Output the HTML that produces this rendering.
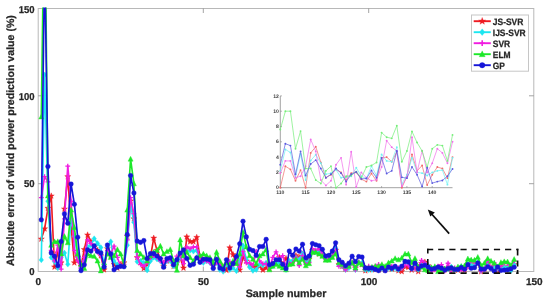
<!DOCTYPE html>
<html lang="en"><head><meta charset="utf-8"><title>Absolute error of wind power prediction value</title>
<style>html,body{margin:0;padding:0;background:#fff}body{width:550px;height:302px;position:relative;overflow:hidden}</style></head>
<body>
<svg width="550" height="302" viewBox="0 0 550 302" style="position:absolute;left:0;top:0">
<defs><clipPath id="cp"><rect x="35.0" y="7.5" width="502.0" height="271.5"/></clipPath><filter id="bl" x="-2%" y="-2%" width="104%" height="104%"><feGaussianBlur stdDeviation="0.45"/></filter><filter id="bt" x="-2%" y="-2%" width="104%" height="104%"><feGaussianBlur stdDeviation="0.3"/></filter></defs>
<rect x="0" y="0" width="550" height="302" fill="#fff"/>
<g filter="url(#bl)">
<rect x="38.2" y="8.5" width="495.6" height="263" fill="none" stroke="#b8b8b8" stroke-width="1"/>
<path d="M203.3 271.5v-5M203.3 8.0v5M368.7 271.5v-5M368.7 8.0v5M38.0 183.7h5M534.0 183.7h-5M38.0 95.8h5M534.0 95.8h-5" stroke="#a4a4a4" stroke-width="1" fill="none"/>
<g clip-path="url(#cp)">
<g stroke="#ee1c24" fill="#ee1c24">
<polyline points="41.31,239.00 44.61,228.81 47.92,208.26 51.23,195.96 54.53,266.93 57.84,252.88 61.15,262.72 64.45,208.96 67.76,176.64 71.07,225.83 74.37,262.72 77.68,257.45 80.99,266.23 84.29,249.54 87.60,234.96 90.91,241.64 94.21,246.91 97.52,250.42 100.83,255.69 104.13,269.74 107.44,248.66 110.75,255.69 114.05,264.47 117.36,267.99 120.67,264.47 123.97,262.72 127.28,236.37 130.59,200.88 133.89,218.80 137.20,257.45 140.51,262.72 143.81,268.34 147.12,264.47 150.43,257.45 153.73,238.12 157.04,250.42 160.35,259.20 163.65,266.23 166.96,260.96 170.27,259.20 173.57,266.23 176.88,262.72 180.19,257.45 183.49,267.99 186.80,236.89 190.11,241.64 193.41,241.64 196.72,237.42 200.03,257.45 203.33,260.96 206.64,259.20 209.95,260.96 213.25,266.23 216.56,260.96 219.87,264.47 223.17,267.99 226.48,270.27 229.79,247.78 233.09,254.64 236.40,262.72 239.71,269.92 243.01,257.45 246.32,260.96 249.63,264.47 252.93,266.23 256.24,266.23 259.55,266.23 262.85,269.92 266.16,267.99 269.47,267.99 272.77,264.47 276.08,262.72 279.39,257.45 282.69,264.47 286.00,258.50 289.31,262.72 292.61,260.96 295.92,255.69 299.23,257.45 302.53,253.93 305.84,260.96 309.15,259.20 312.45,250.42 315.76,252.18 319.07,253.93 322.37,255.69 325.68,259.20 328.99,259.20 332.29,255.69 335.60,250.42 338.91,264.47 342.21,266.23 345.52,268.87 348.83,266.23 352.13,262.72 355.44,267.99 358.75,262.72 362.05,264.47 365.36,270.62 368.67,268.87 371.97,269.74 375.28,267.99 378.59,269.74 381.89,267.99 385.20,269.74 388.51,267.99 391.81,268.87 395.12,267.99 398.43,270.62 401.73,271.50 405.04,266.58 408.35,267.28 411.65,269.92 414.96,267.46 418.27,271.50 421.57,263.51 424.88,262.10 428.19,265.70 431.49,269.22 434.80,268.51 438.11,267.28 441.41,267.99 444.72,269.74 448.03,268.16 451.33,267.99 454.64,269.57 457.95,270.09 461.25,268.25 464.56,269.92 467.87,264.65 471.17,264.47 474.48,265.53 477.79,263.24 481.09,271.50 484.40,268.87 487.71,263.86 491.01,267.64 494.32,266.41 497.63,270.89 500.93,268.51 504.24,266.76 507.55,267.11 510.85,269.30 514.16,264.47" fill="none" stroke-width="1.65" stroke-linejoin="round"/>
<g stroke-width="0.4">
<polygon points="41.31,235.85 42.08,237.93 44.30,238.03 42.56,239.41 43.16,241.55 41.31,240.32 39.46,241.55 40.05,239.41 38.31,238.03 40.53,237.93"/>
<polygon points="44.61,225.66 45.39,227.74 47.61,227.84 45.87,229.22 46.46,231.36 44.61,230.14 42.76,231.36 43.36,229.22 41.62,227.84 43.84,227.74"/>
<polygon points="47.92,205.11 48.70,207.19 50.92,207.29 49.18,208.67 49.77,210.81 47.92,209.58 46.07,210.81 46.66,208.67 44.92,207.29 47.14,207.19"/>
<polygon points="51.23,192.81 52.00,194.89 54.22,194.99 52.48,196.37 53.08,198.51 51.23,197.29 49.38,198.51 49.97,196.37 48.23,194.99 50.45,194.89"/>
<polygon points="54.53,263.78 55.31,265.86 57.53,265.96 55.79,267.34 56.38,269.48 54.53,268.26 52.68,269.48 53.28,267.34 51.54,265.96 53.76,265.86"/>
<polygon points="57.84,249.73 58.62,251.81 60.84,251.91 59.10,253.29 59.69,255.43 57.84,254.20 55.99,255.43 56.58,253.29 54.84,251.91 57.06,251.81"/>
<polygon points="61.15,259.57 61.92,261.65 64.14,261.74 62.40,263.13 63.00,265.27 61.15,264.04 59.30,265.27 59.89,263.13 58.15,261.74 60.37,261.65"/>
<polygon points="64.45,205.81 65.23,207.89 67.45,207.99 65.71,209.37 66.30,211.51 64.45,210.29 62.60,211.51 63.20,209.37 61.46,207.99 63.68,207.89"/>
<polygon points="67.76,173.49 68.54,175.57 70.76,175.67 69.02,177.05 69.61,179.19 67.76,177.96 65.91,179.19 66.50,177.05 64.76,175.67 66.98,175.57"/>
<polygon points="71.07,222.68 71.84,224.76 74.06,224.85 72.32,226.24 72.92,228.38 71.07,227.15 69.22,228.38 69.81,226.24 68.07,224.85 70.29,224.76"/>
<polygon points="74.37,259.57 75.15,261.65 77.37,261.74 75.63,263.13 76.22,265.27 74.37,264.04 72.52,265.27 73.12,263.13 71.38,261.74 73.60,261.65"/>
<polygon points="77.68,254.30 78.46,256.38 80.68,256.47 78.94,257.86 79.53,260.00 77.68,258.77 75.83,260.00 76.42,257.86 74.68,256.47 76.90,256.38"/>
<polygon points="80.99,263.08 81.76,265.16 83.98,265.26 82.24,266.64 82.84,268.78 80.99,267.55 79.14,268.78 79.73,266.64 77.99,265.26 80.21,265.16"/>
<polygon points="84.29,246.39 85.07,248.47 87.29,248.57 85.55,249.95 86.14,252.09 84.29,250.86 82.44,252.09 83.04,249.95 81.30,248.57 83.52,248.47"/>
<polygon points="87.60,231.81 88.38,233.89 90.60,233.99 88.86,235.37 89.45,237.51 87.60,236.28 85.75,237.51 86.34,235.37 84.60,233.99 86.82,233.89"/>
<polygon points="90.91,238.49 91.68,240.57 93.90,240.66 92.16,242.05 92.76,244.19 90.91,242.96 89.06,244.19 89.65,242.05 87.91,240.66 90.13,240.57"/>
<polygon points="94.21,243.76 94.99,245.84 97.21,245.93 95.47,247.32 96.06,249.46 94.21,248.23 92.36,249.46 92.96,247.32 91.22,245.93 93.44,245.84"/>
<polygon points="97.52,247.27 98.30,249.35 100.52,249.45 98.78,250.83 99.37,252.97 97.52,251.74 95.67,252.97 96.26,250.83 94.52,249.45 96.74,249.35"/>
<polygon points="100.83,252.54 101.60,254.62 103.82,254.72 102.08,256.10 102.68,258.24 100.83,257.01 98.98,258.24 99.57,256.10 97.83,254.72 100.05,254.62"/>
<polygon points="104.13,266.59 104.91,268.67 107.13,268.77 105.39,270.15 105.98,272.29 104.13,271.07 102.28,272.29 102.88,270.15 101.14,268.77 103.36,268.67"/>
<polygon points="107.44,245.51 108.22,247.59 110.44,247.69 108.70,249.07 109.29,251.21 107.44,249.99 105.59,251.21 106.18,249.07 104.44,247.69 106.66,247.59"/>
<polygon points="110.75,252.54 111.52,254.62 113.74,254.72 112.00,256.10 112.60,258.24 110.75,257.01 108.90,258.24 109.49,256.10 107.75,254.72 109.97,254.62"/>
<polygon points="114.05,261.32 114.83,263.40 117.05,263.50 115.31,264.88 115.90,267.02 114.05,265.80 112.20,267.02 112.80,264.88 111.06,263.50 113.28,263.40"/>
<polygon points="117.36,264.84 118.14,266.92 120.36,267.01 118.62,268.40 119.21,270.54 117.36,269.31 115.51,270.54 116.10,268.40 114.36,267.01 116.58,266.92"/>
<polygon points="120.67,261.32 121.44,263.40 123.66,263.50 121.92,264.88 122.52,267.02 120.67,265.80 118.82,267.02 119.41,264.88 117.67,263.50 119.89,263.40"/>
<polygon points="123.97,259.57 124.75,261.65 126.97,261.74 125.23,263.13 125.82,265.27 123.97,264.04 122.12,265.27 122.72,263.13 120.98,261.74 123.20,261.65"/>
<polygon points="127.28,233.22 128.06,235.30 130.28,235.39 128.54,236.78 129.13,238.92 127.28,237.69 125.43,238.92 126.02,236.78 124.28,235.39 126.50,235.30"/>
<polygon points="130.59,197.73 131.36,199.81 133.58,199.91 131.84,201.29 132.44,203.43 130.59,202.21 128.74,203.43 129.33,201.29 127.59,199.91 129.81,199.81"/>
<polygon points="133.89,215.65 134.67,217.73 136.89,217.83 135.15,219.21 135.74,221.35 133.89,220.12 132.04,221.35 132.64,219.21 130.90,217.83 133.12,217.73"/>
<polygon points="137.20,254.30 137.98,256.38 140.20,256.47 138.46,257.86 139.05,260.00 137.20,258.77 135.35,260.00 135.94,257.86 134.20,256.47 136.42,256.38"/>
<polygon points="140.51,259.57 141.28,261.65 143.50,261.74 141.76,263.13 142.36,265.27 140.51,264.04 138.66,265.27 139.25,263.13 137.51,261.74 139.73,261.65"/>
<polygon points="143.81,265.19 144.59,267.27 146.81,267.36 145.07,268.75 145.66,270.89 143.81,269.66 141.96,270.89 142.56,268.75 140.82,267.36 143.04,267.27"/>
<polygon points="147.12,261.32 147.90,263.40 150.12,263.50 148.38,264.88 148.97,267.02 147.12,265.80 145.27,267.02 145.86,264.88 144.12,263.50 146.34,263.40"/>
<polygon points="150.43,254.30 151.20,256.38 153.42,256.47 151.68,257.86 152.28,260.00 150.43,258.77 148.58,260.00 149.17,257.86 147.43,256.47 149.65,256.38"/>
<polygon points="153.73,234.97 154.51,237.05 156.73,237.15 154.99,238.53 155.58,240.67 153.73,239.45 151.88,240.67 152.48,238.53 150.74,237.15 152.96,237.05"/>
<polygon points="157.04,247.27 157.82,249.35 160.04,249.45 158.30,250.83 158.89,252.97 157.04,251.74 155.19,252.97 155.78,250.83 154.04,249.45 156.26,249.35"/>
<polygon points="160.35,256.05 161.12,258.13 163.34,258.23 161.60,259.61 162.20,261.75 160.35,260.53 158.50,261.75 159.09,259.61 157.35,258.23 159.57,258.13"/>
<polygon points="163.65,263.08 164.43,265.16 166.65,265.26 164.91,266.64 165.50,268.78 163.65,267.55 161.80,268.78 162.40,266.64 160.66,265.26 162.88,265.16"/>
<polygon points="166.96,257.81 167.74,259.89 169.96,259.99 168.22,261.37 168.81,263.51 166.96,262.28 165.11,263.51 165.70,261.37 163.96,259.99 166.18,259.89"/>
<polygon points="170.27,256.05 171.04,258.13 173.26,258.23 171.52,259.61 172.12,261.75 170.27,260.53 168.42,261.75 169.01,259.61 167.27,258.23 169.49,258.13"/>
<polygon points="173.57,263.08 174.35,265.16 176.57,265.26 174.83,266.64 175.42,268.78 173.57,267.55 171.72,268.78 172.32,266.64 170.58,265.26 172.80,265.16"/>
<polygon points="176.88,259.57 177.66,261.65 179.88,261.74 178.14,263.13 178.73,265.27 176.88,264.04 175.03,265.27 175.62,263.13 173.88,261.74 176.10,261.65"/>
<polygon points="180.19,254.30 180.96,256.38 183.18,256.47 181.44,257.86 182.04,260.00 180.19,258.77 178.34,260.00 178.93,257.86 177.19,256.47 179.41,256.38"/>
<polygon points="183.49,264.84 184.27,266.92 186.49,267.01 184.75,268.40 185.34,270.54 183.49,269.31 181.64,270.54 182.24,268.40 180.50,267.01 182.72,266.92"/>
<polygon points="186.80,233.74 187.58,235.82 189.80,235.92 188.06,237.30 188.65,239.44 186.80,238.22 184.95,239.44 185.54,237.30 183.80,235.92 186.02,235.82"/>
<polygon points="190.11,238.49 190.88,240.57 193.10,240.66 191.36,242.05 191.96,244.19 190.11,242.96 188.26,244.19 188.85,242.05 187.11,240.66 189.33,240.57"/>
<polygon points="193.41,238.49 194.19,240.57 196.41,240.66 194.67,242.05 195.26,244.19 193.41,242.96 191.56,244.19 192.16,242.05 190.42,240.66 192.64,240.57"/>
<polygon points="196.72,234.27 197.50,236.35 199.72,236.45 197.98,237.83 198.57,239.97 196.72,238.74 194.87,239.97 195.46,237.83 193.72,236.45 195.94,236.35"/>
<polygon points="200.03,254.30 200.80,256.38 203.02,256.47 201.28,257.86 201.88,260.00 200.03,258.77 198.18,260.00 198.77,257.86 197.03,256.47 199.25,256.38"/>
<polygon points="203.33,257.81 204.11,259.89 206.33,259.99 204.59,261.37 205.18,263.51 203.33,262.28 201.48,263.51 202.08,261.37 200.34,259.99 202.56,259.89"/>
<polygon points="206.64,256.05 207.42,258.13 209.64,258.23 207.90,259.61 208.49,261.75 206.64,260.53 204.79,261.75 205.38,259.61 203.64,258.23 205.86,258.13"/>
<polygon points="209.95,257.81 210.72,259.89 212.94,259.99 211.20,261.37 211.80,263.51 209.95,262.28 208.10,263.51 208.69,261.37 206.95,259.99 209.17,259.89"/>
<polygon points="213.25,263.08 214.03,265.16 216.25,265.26 214.51,266.64 215.10,268.78 213.25,267.55 211.40,268.78 212.00,266.64 210.26,265.26 212.48,265.16"/>
<polygon points="216.56,257.81 217.34,259.89 219.56,259.99 217.82,261.37 218.41,263.51 216.56,262.28 214.71,263.51 215.30,261.37 213.56,259.99 215.78,259.89"/>
<polygon points="219.87,261.32 220.64,263.40 222.86,263.50 221.12,264.88 221.72,267.02 219.87,265.80 218.02,267.02 218.61,264.88 216.87,263.50 219.09,263.40"/>
<polygon points="223.17,264.84 223.95,266.92 226.17,267.01 224.43,268.40 225.02,270.54 223.17,269.31 221.32,270.54 221.92,268.40 220.18,267.01 222.40,266.92"/>
<polygon points="226.48,267.12 227.26,269.20 229.48,269.30 227.74,270.68 228.33,272.82 226.48,271.59 224.63,272.82 225.22,270.68 223.48,269.30 225.70,269.20"/>
<polygon points="229.79,244.63 230.56,246.71 232.78,246.81 231.04,248.19 231.64,250.33 229.79,249.11 227.94,250.33 228.53,248.19 226.79,246.81 229.01,246.71"/>
<polygon points="233.09,251.49 233.87,253.57 236.09,253.66 234.35,255.04 234.94,257.18 233.09,255.96 231.24,257.18 231.84,255.04 230.10,253.66 232.32,253.57"/>
<polygon points="236.40,259.57 237.18,261.65 239.40,261.74 237.66,263.13 238.25,265.27 236.40,264.04 234.55,265.27 235.14,263.13 233.40,261.74 235.62,261.65"/>
<polygon points="239.71,266.77 240.48,268.85 242.70,268.95 240.96,270.33 241.56,272.47 239.71,271.24 237.86,272.47 238.45,270.33 236.71,268.95 238.93,268.85"/>
<polygon points="243.01,254.30 243.79,256.38 246.01,256.47 244.27,257.86 244.86,260.00 243.01,258.77 241.16,260.00 241.76,257.86 240.02,256.47 242.24,256.38"/>
<polygon points="246.32,257.81 247.10,259.89 249.32,259.99 247.58,261.37 248.17,263.51 246.32,262.28 244.47,263.51 245.06,261.37 243.32,259.99 245.54,259.89"/>
<polygon points="249.63,261.32 250.40,263.40 252.62,263.50 250.88,264.88 251.48,267.02 249.63,265.80 247.78,267.02 248.37,264.88 246.63,263.50 248.85,263.40"/>
<polygon points="252.93,263.08 253.71,265.16 255.93,265.26 254.19,266.64 254.78,268.78 252.93,267.55 251.08,268.78 251.68,266.64 249.94,265.26 252.16,265.16"/>
<polygon points="256.24,263.08 257.02,265.16 259.24,265.26 257.50,266.64 258.09,268.78 256.24,267.55 254.39,268.78 254.98,266.64 253.24,265.26 255.46,265.16"/>
<polygon points="259.55,263.08 260.32,265.16 262.54,265.26 260.80,266.64 261.40,268.78 259.55,267.55 257.70,268.78 258.29,266.64 256.55,265.26 258.77,265.16"/>
<polygon points="262.85,266.77 263.63,268.85 265.85,268.95 264.11,270.33 264.70,272.47 262.85,271.24 261.00,272.47 261.60,270.33 259.86,268.95 262.08,268.85"/>
<polygon points="266.16,264.84 266.94,266.92 269.16,267.01 267.42,268.40 268.01,270.54 266.16,269.31 264.31,270.54 264.90,268.40 263.16,267.01 265.38,266.92"/>
<polygon points="269.47,264.84 270.24,266.92 272.46,267.01 270.72,268.40 271.32,270.54 269.47,269.31 267.62,270.54 268.21,268.40 266.47,267.01 268.69,266.92"/>
<polygon points="272.77,261.32 273.55,263.40 275.77,263.50 274.03,264.88 274.62,267.02 272.77,265.80 270.92,267.02 271.52,264.88 269.78,263.50 272.00,263.40"/>
<polygon points="276.08,259.57 276.86,261.65 279.08,261.74 277.34,263.13 277.93,265.27 276.08,264.04 274.23,265.27 274.82,263.13 273.08,261.74 275.30,261.65"/>
<polygon points="279.39,254.30 280.16,256.38 282.38,256.47 280.64,257.86 281.24,260.00 279.39,258.77 277.54,260.00 278.13,257.86 276.39,256.47 278.61,256.38"/>
<polygon points="282.69,261.32 283.47,263.40 285.69,263.50 283.95,264.88 284.54,267.02 282.69,265.80 280.84,267.02 281.44,264.88 279.70,263.50 281.92,263.40"/>
<polygon points="286.00,255.35 286.78,257.43 289.00,257.53 287.26,258.91 287.85,261.05 286.00,259.82 284.15,261.05 284.74,258.91 283.00,257.53 285.22,257.43"/>
<polygon points="289.31,259.57 290.08,261.65 292.30,261.74 290.56,263.13 291.16,265.27 289.31,264.04 287.46,265.27 288.05,263.13 286.31,261.74 288.53,261.65"/>
<polygon points="292.61,257.81 293.39,259.89 295.61,259.99 293.87,261.37 294.46,263.51 292.61,262.28 290.76,263.51 291.36,261.37 289.62,259.99 291.84,259.89"/>
<polygon points="295.92,252.54 296.70,254.62 298.92,254.72 297.18,256.10 297.77,258.24 295.92,257.01 294.07,258.24 294.66,256.10 292.92,254.72 295.14,254.62"/>
<polygon points="299.23,254.30 300.00,256.38 302.22,256.47 300.48,257.86 301.08,260.00 299.23,258.77 297.38,260.00 297.97,257.86 296.23,256.47 298.45,256.38"/>
<polygon points="302.53,250.78 303.31,252.86 305.53,252.96 303.79,254.34 304.38,256.48 302.53,255.26 300.68,256.48 301.28,254.34 299.54,252.96 301.76,252.86"/>
<polygon points="305.84,257.81 306.62,259.89 308.84,259.99 307.10,261.37 307.69,263.51 305.84,262.28 303.99,263.51 304.58,261.37 302.84,259.99 305.06,259.89"/>
<polygon points="309.15,256.05 309.92,258.13 312.14,258.23 310.40,259.61 311.00,261.75 309.15,260.53 307.30,261.75 307.89,259.61 306.15,258.23 308.37,258.13"/>
<polygon points="312.45,247.27 313.23,249.35 315.45,249.45 313.71,250.83 314.30,252.97 312.45,251.74 310.60,252.97 311.20,250.83 309.46,249.45 311.68,249.35"/>
<polygon points="315.76,249.03 316.54,251.11 318.76,251.20 317.02,252.59 317.61,254.73 315.76,253.50 313.91,254.73 314.50,252.59 312.76,251.20 314.98,251.11"/>
<polygon points="319.07,250.78 319.84,252.86 322.06,252.96 320.32,254.34 320.92,256.48 319.07,255.26 317.22,256.48 317.81,254.34 316.07,252.96 318.29,252.86"/>
<polygon points="322.37,252.54 323.15,254.62 325.37,254.72 323.63,256.10 324.22,258.24 322.37,257.01 320.52,258.24 321.12,256.10 319.38,254.72 321.60,254.62"/>
<polygon points="325.68,256.05 326.46,258.13 328.68,258.23 326.94,259.61 327.53,261.75 325.68,260.53 323.83,261.75 324.42,259.61 322.68,258.23 324.90,258.13"/>
<polygon points="328.99,256.05 329.76,258.13 331.98,258.23 330.24,259.61 330.84,261.75 328.99,260.53 327.14,261.75 327.73,259.61 325.99,258.23 328.21,258.13"/>
<polygon points="332.29,252.54 333.07,254.62 335.29,254.72 333.55,256.10 334.14,258.24 332.29,257.01 330.44,258.24 331.04,256.10 329.30,254.72 331.52,254.62"/>
<polygon points="335.60,247.27 336.38,249.35 338.60,249.45 336.86,250.83 337.45,252.97 335.60,251.74 333.75,252.97 334.34,250.83 332.60,249.45 334.82,249.35"/>
<polygon points="338.91,261.32 339.68,263.40 341.90,263.50 340.16,264.88 340.76,267.02 338.91,265.80 337.06,267.02 337.65,264.88 335.91,263.50 338.13,263.40"/>
<polygon points="342.21,263.08 342.99,265.16 345.21,265.26 343.47,266.64 344.06,268.78 342.21,267.55 340.36,268.78 340.96,266.64 339.22,265.26 341.44,265.16"/>
<polygon points="345.52,265.72 346.30,267.79 348.52,267.89 346.78,269.27 347.37,271.41 345.52,270.19 343.67,271.41 344.26,269.27 342.52,267.89 344.74,267.79"/>
<polygon points="348.83,263.08 349.60,265.16 351.82,265.26 350.08,266.64 350.68,268.78 348.83,267.55 346.98,268.78 347.57,266.64 345.83,265.26 348.05,265.16"/>
<polygon points="352.13,259.57 352.91,261.65 355.13,261.74 353.39,263.13 353.98,265.27 352.13,264.04 350.28,265.27 350.88,263.13 349.14,261.74 351.36,261.65"/>
<polygon points="355.44,264.84 356.22,266.92 358.44,267.01 356.70,268.40 357.29,270.54 355.44,269.31 353.59,270.54 354.18,268.40 352.44,267.01 354.66,266.92"/>
<polygon points="358.75,259.57 359.52,261.65 361.74,261.74 360.00,263.13 360.60,265.27 358.75,264.04 356.90,265.27 357.49,263.13 355.75,261.74 357.97,261.65"/>
<polygon points="362.05,261.32 362.83,263.40 365.05,263.50 363.31,264.88 363.90,267.02 362.05,265.80 360.20,267.02 360.80,264.88 359.06,263.50 361.28,263.40"/>
<polygon points="365.36,267.47 366.14,269.55 368.36,269.65 366.62,271.03 367.21,273.17 365.36,271.94 363.51,273.17 364.10,271.03 362.36,269.65 364.58,269.55"/>
<polygon points="368.67,265.72 369.44,267.79 371.66,267.89 369.92,269.27 370.52,271.41 368.67,270.19 366.82,271.41 367.41,269.27 365.67,267.89 367.89,267.79"/>
<polygon points="371.97,266.59 372.75,268.67 374.97,268.77 373.23,270.15 373.82,272.29 371.97,271.07 370.12,272.29 370.72,270.15 368.98,268.77 371.20,268.67"/>
<polygon points="375.28,264.84 376.06,266.92 378.28,267.01 376.54,268.40 377.13,270.54 375.28,269.31 373.43,270.54 374.02,268.40 372.28,267.01 374.50,266.92"/>
<polygon points="378.59,266.59 379.36,268.67 381.58,268.77 379.84,270.15 380.44,272.29 378.59,271.07 376.74,272.29 377.33,270.15 375.59,268.77 377.81,268.67"/>
<polygon points="381.89,264.84 382.67,266.92 384.89,267.01 383.15,268.40 383.74,270.54 381.89,269.31 380.04,270.54 380.64,268.40 378.90,267.01 381.12,266.92"/>
<polygon points="385.20,266.59 385.98,268.67 388.20,268.77 386.46,270.15 387.05,272.29 385.20,271.07 383.35,272.29 383.94,270.15 382.20,268.77 384.42,268.67"/>
<polygon points="388.51,264.84 389.28,266.92 391.50,267.01 389.76,268.40 390.36,270.54 388.51,269.31 386.66,270.54 387.25,268.40 385.51,267.01 387.73,266.92"/>
<polygon points="391.81,265.72 392.59,267.79 394.81,267.89 393.07,269.27 393.66,271.41 391.81,270.19 389.96,271.41 390.56,269.27 388.82,267.89 391.04,267.79"/>
<polygon points="395.12,264.84 395.90,266.92 398.12,267.01 396.38,268.40 396.97,270.54 395.12,269.31 393.27,270.54 393.86,268.40 392.12,267.01 394.34,266.92"/>
<polygon points="398.43,267.47 399.20,269.55 401.42,269.65 399.68,271.03 400.28,273.17 398.43,271.94 396.58,273.17 397.17,271.03 395.43,269.65 397.65,269.55"/>
<polygon points="401.73,268.35 402.51,270.43 404.73,270.53 402.99,271.91 403.58,274.05 401.73,272.82 399.88,274.05 400.48,271.91 398.74,270.53 400.96,270.43"/>
<polygon points="405.04,263.43 405.82,265.51 408.04,265.61 406.30,266.99 406.89,269.13 405.04,267.90 403.19,269.13 403.78,266.99 402.04,265.61 404.26,265.51"/>
<polygon points="408.35,264.13 409.12,266.21 411.34,266.31 409.60,267.69 410.20,269.83 408.35,268.61 406.50,269.83 407.09,267.69 405.35,266.31 407.57,266.21"/>
<polygon points="411.65,266.77 412.43,268.85 414.65,268.95 412.91,270.33 413.50,272.47 411.65,271.24 409.80,272.47 410.40,270.33 408.66,268.95 410.88,268.85"/>
<polygon points="414.96,264.31 415.74,266.39 417.96,266.49 416.22,267.87 416.81,270.01 414.96,268.78 413.11,270.01 413.70,267.87 411.96,266.49 414.18,266.39"/>
<polygon points="418.27,268.35 419.04,270.43 421.26,270.53 419.52,271.91 420.12,274.05 418.27,272.82 416.42,274.05 417.01,271.91 415.27,270.53 417.49,270.43"/>
<polygon points="421.57,260.36 422.35,262.44 424.57,262.53 422.83,263.92 423.42,266.06 421.57,264.83 419.72,266.06 420.32,263.92 418.58,262.53 420.80,262.44"/>
<polygon points="424.88,258.95 425.66,261.03 427.88,261.13 426.14,262.51 426.73,264.65 424.88,263.42 423.03,264.65 423.62,262.51 421.88,261.13 424.10,261.03"/>
<polygon points="428.19,262.55 428.96,264.63 431.18,264.73 429.44,266.11 430.04,268.25 428.19,267.03 426.34,268.25 426.93,266.11 425.19,264.73 427.41,264.63"/>
<polygon points="431.49,266.07 432.27,268.15 434.49,268.24 432.75,269.63 433.34,271.76 431.49,270.54 429.64,271.76 430.24,269.63 428.50,268.24 430.72,268.15"/>
<polygon points="434.80,265.36 435.58,267.44 437.80,267.54 436.06,268.92 436.65,271.06 434.80,269.84 432.95,271.06 433.54,268.92 431.80,267.54 434.02,267.44"/>
<polygon points="438.11,264.13 438.88,266.21 441.10,266.31 439.36,267.69 439.96,269.83 438.11,268.61 436.26,269.83 436.85,267.69 435.11,266.31 437.33,266.21"/>
<polygon points="441.41,264.84 442.19,266.92 444.41,267.01 442.67,268.40 443.26,270.54 441.41,269.31 439.56,270.54 440.16,268.40 438.42,267.01 440.64,266.92"/>
<polygon points="444.72,266.59 445.50,268.67 447.72,268.77 445.98,270.15 446.57,272.29 444.72,271.07 442.87,272.29 443.46,270.15 441.72,268.77 443.94,268.67"/>
<polygon points="448.03,265.01 448.80,267.09 451.02,267.19 449.28,268.57 449.88,270.71 448.03,269.49 446.18,270.71 446.77,268.57 445.03,267.19 447.25,267.09"/>
<polygon points="451.33,264.84 452.11,266.92 454.33,267.01 452.59,268.40 453.18,270.54 451.33,269.31 449.48,270.54 450.08,268.40 448.34,267.01 450.56,266.92"/>
<polygon points="454.64,266.42 455.42,268.50 457.64,268.59 455.90,269.98 456.49,272.12 454.64,270.89 452.79,272.12 453.38,269.98 451.64,268.59 453.86,268.50"/>
<polygon points="457.95,266.94 458.72,269.02 460.94,269.12 459.20,270.50 459.80,272.64 457.95,271.42 456.10,272.64 456.69,270.50 454.95,269.12 457.17,269.02"/>
<polygon points="461.25,265.10 462.03,267.18 464.25,267.28 462.51,268.66 463.10,270.80 461.25,269.57 459.40,270.80 460.00,268.66 458.26,267.28 460.48,267.18"/>
<polygon points="464.56,266.77 465.34,268.85 467.56,268.95 465.82,270.33 466.41,272.47 464.56,271.24 462.71,272.47 463.30,270.33 461.56,268.95 463.78,268.85"/>
<polygon points="467.87,261.50 468.64,263.58 470.86,263.68 469.12,265.06 469.72,267.20 467.87,265.97 466.02,267.20 466.61,265.06 464.87,263.68 467.09,263.58"/>
<polygon points="471.17,261.32 471.95,263.40 474.17,263.50 472.43,264.88 473.02,267.02 471.17,265.80 469.32,267.02 469.92,264.88 468.18,263.50 470.40,263.40"/>
<polygon points="474.48,262.38 475.26,264.46 477.48,264.55 475.74,265.94 476.33,268.08 474.48,266.85 472.63,268.08 473.22,265.94 471.48,264.55 473.70,264.46"/>
<polygon points="477.79,260.09 478.56,262.17 480.78,262.27 479.04,263.65 479.64,265.79 477.79,264.57 475.94,265.79 476.53,263.65 474.79,262.27 477.01,262.17"/>
<polygon points="481.09,268.35 481.87,270.43 484.09,270.53 482.35,271.91 482.94,274.05 481.09,272.82 479.24,274.05 479.84,271.91 478.10,270.53 480.32,270.43"/>
<polygon points="484.40,265.72 485.18,267.79 487.40,267.89 485.66,269.27 486.25,271.41 484.40,270.19 482.55,271.41 483.14,269.27 481.40,267.89 483.62,267.79"/>
<polygon points="487.71,260.71 488.48,262.79 490.70,262.89 488.96,264.27 489.56,266.41 487.71,265.18 485.86,266.41 486.45,264.27 484.71,262.89 486.93,262.79"/>
<polygon points="491.01,264.49 491.79,266.57 494.01,266.66 492.27,268.04 492.86,270.18 491.01,268.96 489.16,270.18 489.76,268.04 488.02,266.66 490.24,266.57"/>
<polygon points="494.32,263.26 495.10,265.34 497.32,265.43 495.58,266.81 496.17,268.95 494.32,267.73 492.47,268.95 493.06,266.81 491.32,265.43 493.54,265.34"/>
<polygon points="497.63,267.74 498.40,269.81 500.62,269.91 498.88,271.29 499.48,273.43 497.63,272.21 495.78,273.43 496.37,271.29 494.63,269.91 496.85,269.81"/>
<polygon points="500.93,265.36 501.71,267.44 503.93,267.54 502.19,268.92 502.78,271.06 500.93,269.84 499.08,271.06 499.68,268.92 497.94,267.54 500.16,267.44"/>
<polygon points="504.24,263.61 505.02,265.69 507.24,265.78 505.50,267.17 506.09,269.31 504.24,268.08 502.39,269.31 502.98,267.17 501.24,265.78 503.46,265.69"/>
<polygon points="507.55,263.96 508.32,266.04 510.54,266.13 508.80,267.52 509.40,269.66 507.55,268.43 505.70,269.66 506.29,267.52 504.55,266.13 506.77,266.04"/>
<polygon points="510.85,266.15 511.63,268.23 513.85,268.33 512.11,269.71 512.70,271.85 510.85,270.63 509.00,271.85 509.60,269.71 507.86,268.33 510.08,268.23"/>
<polygon points="514.16,261.32 514.94,263.40 517.16,263.50 515.42,264.88 516.01,267.02 514.16,265.80 512.31,267.02 512.90,264.88 511.16,263.50 513.38,263.40"/>
</g></g>
<g stroke="#1fe6f0" fill="#1fe6f0">
<polyline points="41.31,259.91 44.61,74.75 47.92,201.23 51.23,257.45 54.53,261.66 57.84,267.99 61.15,257.45 64.45,252.88 67.76,264.30 71.07,218.80 74.37,236.37 77.68,257.45 80.99,267.99 84.29,260.96 87.60,246.91 90.91,245.15 94.21,238.65 97.52,243.39 100.83,247.43 104.13,264.47 107.44,246.91 110.75,241.64 114.05,260.96 117.36,264.47 120.67,266.23 123.97,266.23 127.28,245.15 130.59,204.75 133.89,222.31 137.20,261.66 140.51,260.96 143.81,262.72 147.12,270.27 150.43,260.96 153.73,257.45 157.04,259.20 160.35,260.96 163.65,266.23 166.96,260.96 170.27,260.96 173.57,266.23 176.88,262.72 180.19,257.45 183.49,255.69 186.80,251.30 190.11,250.42 193.41,251.30 196.72,250.42 200.03,260.96 203.33,262.72 206.64,260.96 209.95,262.72 213.25,267.99 216.56,262.72 219.87,269.74 223.17,271.50 226.48,264.47 229.79,269.74 233.09,267.99 236.40,270.97 239.71,260.96 243.01,245.68 246.32,259.20 249.63,267.28 252.93,270.62 256.24,269.74 259.55,264.47 262.85,265.35 266.16,262.72 269.47,267.99 272.77,266.23 276.08,262.72 279.39,262.72 282.69,266.23 286.00,269.74 289.31,260.96 292.61,260.96 295.92,257.45 299.23,259.20 302.53,253.93 305.84,262.72 309.15,260.96 312.45,250.42 315.76,252.18 319.07,250.42 322.37,253.93 325.68,259.20 328.99,259.20 332.29,255.69 335.60,248.66 338.91,264.47 342.21,266.23 345.52,269.74 348.83,267.99 352.13,262.72 355.44,269.74 358.75,262.72 362.05,262.72 365.36,269.74 368.67,269.74 371.97,269.74 375.28,268.87 378.59,269.74 381.89,267.99 385.20,269.74 388.51,267.99 391.81,268.87 395.12,267.99 398.43,269.74 401.73,267.64 405.04,262.72 408.35,263.42 411.65,269.04 414.96,263.77 418.27,269.74 421.57,265.26 424.88,263.95 428.19,265.88 431.49,268.43 434.80,268.16 438.11,267.37 441.41,269.22 444.72,269.04 448.03,268.87 451.33,266.93 454.64,268.87 457.95,269.39 461.25,266.58 464.56,268.69 467.87,263.86 471.17,265.35 474.48,265.53 477.79,262.19 481.09,270.62 484.40,268.51 487.71,264.65 491.01,267.99 494.32,268.16 497.63,268.69 500.93,267.99 504.24,267.64 507.55,267.46 510.85,270.80 514.16,264.65" fill="none" stroke-width="1.65" stroke-linejoin="round"/>
<g stroke-width="0.4">
<polygon points="41.31,257.09 43.56,259.91 41.31,262.72 39.06,259.91"/>
<polygon points="44.61,71.94 46.86,74.75 44.61,77.57 42.36,74.75"/>
<polygon points="47.92,198.42 50.17,201.23 47.92,204.05 45.67,201.23"/>
<polygon points="51.23,254.63 53.48,257.45 51.23,260.26 48.98,257.45"/>
<polygon points="54.53,258.85 56.78,261.66 54.53,264.48 52.28,261.66"/>
<polygon points="57.84,265.17 60.09,267.99 57.84,270.80 55.59,267.99"/>
<polygon points="61.15,254.63 63.40,257.45 61.15,260.26 58.90,257.45"/>
<polygon points="64.45,250.07 66.70,252.88 64.45,255.69 62.20,252.88"/>
<polygon points="67.76,261.49 70.01,264.30 67.76,267.11 65.51,264.30"/>
<polygon points="71.07,215.99 73.32,218.80 71.07,221.61 68.82,218.80"/>
<polygon points="74.37,233.55 76.62,236.37 74.37,239.18 72.12,236.37"/>
<polygon points="77.68,254.63 79.93,257.45 77.68,260.26 75.43,257.45"/>
<polygon points="80.99,265.17 83.24,267.99 80.99,270.80 78.74,267.99"/>
<polygon points="84.29,258.15 86.54,260.96 84.29,263.77 82.04,260.96"/>
<polygon points="87.60,244.09 89.85,246.91 87.60,249.72 85.35,246.91"/>
<polygon points="90.91,242.34 93.16,245.15 90.91,247.96 88.66,245.15"/>
<polygon points="94.21,235.84 96.46,238.65 94.21,241.46 91.96,238.65"/>
<polygon points="97.52,240.58 99.77,243.39 97.52,246.21 95.27,243.39"/>
<polygon points="100.83,244.62 103.08,247.43 100.83,250.25 98.58,247.43"/>
<polygon points="104.13,261.66 106.38,264.47 104.13,267.29 101.88,264.47"/>
<polygon points="107.44,244.09 109.69,246.91 107.44,249.72 105.19,246.91"/>
<polygon points="110.75,238.82 113.00,241.64 110.75,244.45 108.50,241.64"/>
<polygon points="114.05,258.15 116.30,260.96 114.05,263.77 111.80,260.96"/>
<polygon points="117.36,261.66 119.61,264.47 117.36,267.29 115.11,264.47"/>
<polygon points="120.67,263.42 122.92,266.23 120.67,269.04 118.42,266.23"/>
<polygon points="123.97,263.42 126.22,266.23 123.97,269.04 121.72,266.23"/>
<polygon points="127.28,242.34 129.53,245.15 127.28,247.96 125.03,245.15"/>
<polygon points="130.59,201.93 132.84,204.75 130.59,207.56 128.34,204.75"/>
<polygon points="133.89,219.50 136.14,222.31 133.89,225.13 131.64,222.31"/>
<polygon points="137.20,258.85 139.45,261.66 137.20,264.48 134.95,261.66"/>
<polygon points="140.51,258.15 142.76,260.96 140.51,263.77 138.26,260.96"/>
<polygon points="143.81,259.90 146.06,262.72 143.81,265.53 141.56,262.72"/>
<polygon points="147.12,267.46 149.37,270.27 147.12,273.08 144.87,270.27"/>
<polygon points="150.43,258.15 152.68,260.96 150.43,263.77 148.18,260.96"/>
<polygon points="153.73,254.63 155.98,257.45 153.73,260.26 151.48,257.45"/>
<polygon points="157.04,256.39 159.29,259.20 157.04,262.02 154.79,259.20"/>
<polygon points="160.35,258.15 162.60,260.96 160.35,263.77 158.10,260.96"/>
<polygon points="163.65,263.42 165.90,266.23 163.65,269.04 161.40,266.23"/>
<polygon points="166.96,258.15 169.21,260.96 166.96,263.77 164.71,260.96"/>
<polygon points="170.27,258.15 172.52,260.96 170.27,263.77 168.02,260.96"/>
<polygon points="173.57,263.42 175.82,266.23 173.57,269.04 171.32,266.23"/>
<polygon points="176.88,259.90 179.13,262.72 176.88,265.53 174.63,262.72"/>
<polygon points="180.19,254.63 182.44,257.45 180.19,260.26 177.94,257.45"/>
<polygon points="183.49,252.88 185.74,255.69 183.49,258.50 181.24,255.69"/>
<polygon points="186.80,248.49 189.05,251.30 186.80,254.11 184.55,251.30"/>
<polygon points="190.11,247.61 192.36,250.42 190.11,253.23 187.86,250.42"/>
<polygon points="193.41,248.49 195.66,251.30 193.41,254.11 191.16,251.30"/>
<polygon points="196.72,247.61 198.97,250.42 196.72,253.23 194.47,250.42"/>
<polygon points="200.03,258.15 202.28,260.96 200.03,263.77 197.78,260.96"/>
<polygon points="203.33,259.90 205.58,262.72 203.33,265.53 201.08,262.72"/>
<polygon points="206.64,258.15 208.89,260.96 206.64,263.77 204.39,260.96"/>
<polygon points="209.95,259.90 212.20,262.72 209.95,265.53 207.70,262.72"/>
<polygon points="213.25,265.17 215.50,267.99 213.25,270.80 211.00,267.99"/>
<polygon points="216.56,259.90 218.81,262.72 216.56,265.53 214.31,262.72"/>
<polygon points="219.87,266.93 222.12,269.74 219.87,272.56 217.62,269.74"/>
<polygon points="223.17,268.69 225.42,271.50 223.17,274.31 220.92,271.50"/>
<polygon points="226.48,261.66 228.73,264.47 226.48,267.29 224.23,264.47"/>
<polygon points="229.79,266.93 232.04,269.74 229.79,272.56 227.54,269.74"/>
<polygon points="233.09,265.17 235.34,267.99 233.09,270.80 230.84,267.99"/>
<polygon points="236.40,268.16 238.65,270.97 236.40,273.79 234.15,270.97"/>
<polygon points="239.71,258.15 241.96,260.96 239.71,263.77 237.46,260.96"/>
<polygon points="243.01,242.86 245.26,245.68 243.01,248.49 240.76,245.68"/>
<polygon points="246.32,256.39 248.57,259.20 246.32,262.02 244.07,259.20"/>
<polygon points="249.63,264.47 251.88,267.28 249.63,270.10 247.38,267.28"/>
<polygon points="252.93,267.81 255.18,270.62 252.93,273.43 250.68,270.62"/>
<polygon points="256.24,266.93 258.49,269.74 256.24,272.56 253.99,269.74"/>
<polygon points="259.55,261.66 261.80,264.47 259.55,267.29 257.30,264.47"/>
<polygon points="262.85,262.54 265.10,265.35 262.85,268.16 260.60,265.35"/>
<polygon points="266.16,259.90 268.41,262.72 266.16,265.53 263.91,262.72"/>
<polygon points="269.47,265.17 271.72,267.99 269.47,270.80 267.22,267.99"/>
<polygon points="272.77,263.42 275.02,266.23 272.77,269.04 270.52,266.23"/>
<polygon points="276.08,259.90 278.33,262.72 276.08,265.53 273.83,262.72"/>
<polygon points="279.39,259.90 281.64,262.72 279.39,265.53 277.14,262.72"/>
<polygon points="282.69,263.42 284.94,266.23 282.69,269.04 280.44,266.23"/>
<polygon points="286.00,266.93 288.25,269.74 286.00,272.56 283.75,269.74"/>
<polygon points="289.31,258.15 291.56,260.96 289.31,263.77 287.06,260.96"/>
<polygon points="292.61,258.15 294.86,260.96 292.61,263.77 290.36,260.96"/>
<polygon points="295.92,254.63 298.17,257.45 295.92,260.26 293.67,257.45"/>
<polygon points="299.23,256.39 301.48,259.20 299.23,262.02 296.98,259.20"/>
<polygon points="302.53,251.12 304.78,253.93 302.53,256.75 300.28,253.93"/>
<polygon points="305.84,259.90 308.09,262.72 305.84,265.53 303.59,262.72"/>
<polygon points="309.15,258.15 311.40,260.96 309.15,263.77 306.90,260.96"/>
<polygon points="312.45,247.61 314.70,250.42 312.45,253.23 310.20,250.42"/>
<polygon points="315.76,249.36 318.01,252.18 315.76,254.99 313.51,252.18"/>
<polygon points="319.07,247.61 321.32,250.42 319.07,253.23 316.82,250.42"/>
<polygon points="322.37,251.12 324.62,253.93 322.37,256.75 320.12,253.93"/>
<polygon points="325.68,256.39 327.93,259.20 325.68,262.02 323.43,259.20"/>
<polygon points="328.99,256.39 331.24,259.20 328.99,262.02 326.74,259.20"/>
<polygon points="332.29,252.88 334.54,255.69 332.29,258.50 330.04,255.69"/>
<polygon points="335.60,245.85 337.85,248.66 335.60,251.48 333.35,248.66"/>
<polygon points="338.91,261.66 341.16,264.47 338.91,267.29 336.66,264.47"/>
<polygon points="342.21,263.42 344.46,266.23 342.21,269.04 339.96,266.23"/>
<polygon points="345.52,266.93 347.77,269.74 345.52,272.56 343.27,269.74"/>
<polygon points="348.83,265.17 351.08,267.99 348.83,270.80 346.58,267.99"/>
<polygon points="352.13,259.90 354.38,262.72 352.13,265.53 349.88,262.72"/>
<polygon points="355.44,266.93 357.69,269.74 355.44,272.56 353.19,269.74"/>
<polygon points="358.75,259.90 361.00,262.72 358.75,265.53 356.50,262.72"/>
<polygon points="362.05,259.90 364.30,262.72 362.05,265.53 359.80,262.72"/>
<polygon points="365.36,266.93 367.61,269.74 365.36,272.56 363.11,269.74"/>
<polygon points="368.67,266.93 370.92,269.74 368.67,272.56 366.42,269.74"/>
<polygon points="371.97,266.93 374.22,269.74 371.97,272.56 369.72,269.74"/>
<polygon points="375.28,266.05 377.53,268.87 375.28,271.68 373.03,268.87"/>
<polygon points="378.59,266.93 380.84,269.74 378.59,272.56 376.34,269.74"/>
<polygon points="381.89,265.17 384.14,267.99 381.89,270.80 379.64,267.99"/>
<polygon points="385.20,266.93 387.45,269.74 385.20,272.56 382.95,269.74"/>
<polygon points="388.51,265.17 390.76,267.99 388.51,270.80 386.26,267.99"/>
<polygon points="391.81,266.05 394.06,268.87 391.81,271.68 389.56,268.87"/>
<polygon points="395.12,265.17 397.37,267.99 395.12,270.80 392.87,267.99"/>
<polygon points="398.43,266.93 400.68,269.74 398.43,272.56 396.18,269.74"/>
<polygon points="401.73,264.82 403.98,267.64 401.73,270.45 399.48,267.64"/>
<polygon points="405.04,259.90 407.29,262.72 405.04,265.53 402.79,262.72"/>
<polygon points="408.35,260.61 410.60,263.42 408.35,266.23 406.10,263.42"/>
<polygon points="411.65,266.23 413.90,269.04 411.65,271.85 409.40,269.04"/>
<polygon points="414.96,260.96 417.21,263.77 414.96,266.58 412.71,263.77"/>
<polygon points="418.27,266.93 420.52,269.74 418.27,272.56 416.02,269.74"/>
<polygon points="421.57,262.45 423.82,265.26 421.57,268.08 419.32,265.26"/>
<polygon points="424.88,261.13 427.13,263.95 424.88,266.76 422.63,263.95"/>
<polygon points="428.19,263.07 430.44,265.88 428.19,268.69 425.94,265.88"/>
<polygon points="431.49,265.61 433.74,268.43 431.49,271.24 429.24,268.43"/>
<polygon points="434.80,265.35 437.05,268.16 434.80,270.97 432.55,268.16"/>
<polygon points="438.11,264.56 440.36,267.37 438.11,270.18 435.86,267.37"/>
<polygon points="441.41,266.40 443.66,269.22 441.41,272.03 439.16,269.22"/>
<polygon points="444.72,266.23 446.97,269.04 444.72,271.85 442.47,269.04"/>
<polygon points="448.03,266.05 450.28,268.87 448.03,271.68 445.78,268.87"/>
<polygon points="451.33,264.12 453.58,266.93 451.33,269.75 449.08,266.93"/>
<polygon points="454.64,266.05 456.89,268.87 454.64,271.68 452.39,268.87"/>
<polygon points="457.95,266.58 460.20,269.39 457.95,272.20 455.70,269.39"/>
<polygon points="461.25,263.77 463.50,266.58 461.25,269.39 459.00,266.58"/>
<polygon points="464.56,265.88 466.81,268.69 464.56,271.50 462.31,268.69"/>
<polygon points="467.87,261.05 470.12,263.86 467.87,266.67 465.62,263.86"/>
<polygon points="471.17,262.54 473.42,265.35 471.17,268.16 468.92,265.35"/>
<polygon points="474.48,262.71 476.73,265.53 474.48,268.34 472.23,265.53"/>
<polygon points="477.79,259.38 480.04,262.19 477.79,265.00 475.54,262.19"/>
<polygon points="481.09,267.81 483.34,270.62 481.09,273.43 478.84,270.62"/>
<polygon points="484.40,265.70 486.65,268.51 484.40,271.33 482.15,268.51"/>
<polygon points="487.71,261.84 489.96,264.65 487.71,267.46 485.46,264.65"/>
<polygon points="491.01,265.17 493.26,267.99 491.01,270.80 488.76,267.99"/>
<polygon points="494.32,265.35 496.57,268.16 494.32,270.97 492.07,268.16"/>
<polygon points="497.63,265.88 499.88,268.69 497.63,271.50 495.38,268.69"/>
<polygon points="500.93,265.17 503.18,267.99 500.93,270.80 498.68,267.99"/>
<polygon points="504.24,264.82 506.49,267.64 504.24,270.45 501.99,267.64"/>
<polygon points="507.55,264.65 509.80,267.46 507.55,270.27 505.30,267.46"/>
<polygon points="510.85,267.98 513.10,270.80 510.85,273.61 508.60,270.80"/>
<polygon points="514.16,261.84 516.41,264.65 514.16,267.46 511.91,264.65"/>
</g></g>
<g stroke="#f01ce0" fill="#f01ce0">
<polyline points="41.31,197.72 44.61,176.64 47.92,181.91 51.23,250.42 54.53,260.96 57.84,245.15 61.15,269.04 64.45,218.80 67.76,166.10 71.07,201.23 74.37,250.42 77.68,260.96 80.99,267.99 84.29,257.45 87.60,239.88 90.91,243.39 94.21,248.66 97.52,252.18 100.83,255.69 104.13,266.23 107.44,250.42 110.75,253.93 114.05,246.03 117.36,257.45 120.67,266.23 123.97,264.47 127.28,239.88 130.59,197.72 133.89,213.53 137.20,257.45 140.51,264.47 143.81,266.23 147.12,262.72 150.43,257.45 153.73,255.69 157.04,257.45 160.35,260.96 163.65,262.19 166.96,260.96 170.27,259.20 173.57,264.47 176.88,256.22 180.19,255.69 183.49,263.60 186.80,246.91 190.11,248.66 193.41,246.91 196.72,246.91 200.03,259.20 203.33,260.96 206.64,260.96 209.95,262.72 213.25,267.46 216.56,262.72 219.87,264.82 223.17,269.74 226.48,262.72 229.79,261.66 233.09,264.47 236.40,260.96 239.71,266.76 243.01,251.30 246.32,262.89 249.63,262.89 252.93,265.35 256.24,251.47 259.55,260.96 262.85,263.60 266.16,263.95 269.47,267.99 272.77,257.45 276.08,251.83 279.39,259.20 282.69,255.69 286.00,266.23 289.31,263.24 292.61,262.72 295.92,257.45 299.23,265.70 302.53,255.69 305.84,264.47 309.15,262.72 312.45,248.66 315.76,250.42 319.07,248.66 322.37,253.93 325.68,259.20 328.99,259.20 332.29,255.69 335.60,250.42 338.91,266.23 342.21,266.23 345.52,269.74 348.83,266.23 352.13,262.72 355.44,269.74 358.75,262.72 362.05,264.47 365.36,267.99 368.67,266.23 371.97,267.99 375.28,266.23 378.59,264.47 381.89,266.23 385.20,267.99 388.51,266.23 391.81,266.23 395.12,266.23 398.43,267.99 401.73,268.16 405.04,265.35 408.35,265.35 411.65,269.22 414.96,268.87 418.27,266.58 421.57,260.43 424.88,263.16 428.19,269.74 431.49,270.97 434.80,269.92 438.11,266.23 441.41,264.65 444.72,270.80 448.03,263.24 451.33,271.32 454.64,267.99 457.95,269.22 461.25,269.92 464.56,269.66 467.87,266.76 471.17,260.70 474.48,262.19 477.79,263.07 481.09,271.15 484.40,269.04 487.71,259.91 491.01,267.99 494.32,262.98 497.63,267.99 500.93,265.88 504.24,262.54 507.55,263.51 510.85,265.88 514.16,260.96" fill="none" stroke-width="1.65" stroke-linejoin="round"/>
<g stroke-width="0.4">
<path d="M38.91 197.72H43.71M41.31 195.32V200.12" stroke-width="1.30" fill="none"/>
<path d="M42.21 176.64H47.01M44.61 174.24V179.04" stroke-width="1.30" fill="none"/>
<path d="M45.52 181.91H50.32M47.92 179.51V184.31" stroke-width="1.30" fill="none"/>
<path d="M48.83 250.42H53.63M51.23 248.02V252.82" stroke-width="1.30" fill="none"/>
<path d="M52.13 260.96H56.93M54.53 258.56V263.36" stroke-width="1.30" fill="none"/>
<path d="M55.44 245.15H60.24M57.84 242.75V247.55" stroke-width="1.30" fill="none"/>
<path d="M58.75 269.04H63.55M61.15 266.64V271.44" stroke-width="1.30" fill="none"/>
<path d="M62.05 218.80H66.85M64.45 216.40V221.20" stroke-width="1.30" fill="none"/>
<path d="M65.36 166.10H70.16M67.76 163.70V168.50" stroke-width="1.30" fill="none"/>
<path d="M68.67 201.23H73.47M71.07 198.83V203.63" stroke-width="1.30" fill="none"/>
<path d="M71.97 250.42H76.77M74.37 248.02V252.82" stroke-width="1.30" fill="none"/>
<path d="M75.28 260.96H80.08M77.68 258.56V263.36" stroke-width="1.30" fill="none"/>
<path d="M78.59 267.99H83.39M80.99 265.59V270.39" stroke-width="1.30" fill="none"/>
<path d="M81.89 257.45H86.69M84.29 255.05V259.85" stroke-width="1.30" fill="none"/>
<path d="M85.20 239.88H90.00M87.60 237.48V242.28" stroke-width="1.30" fill="none"/>
<path d="M88.51 243.39H93.31M90.91 240.99V245.79" stroke-width="1.30" fill="none"/>
<path d="M91.81 248.66H96.61M94.21 246.26V251.06" stroke-width="1.30" fill="none"/>
<path d="M95.12 252.18H99.92M97.52 249.78V254.58" stroke-width="1.30" fill="none"/>
<path d="M98.43 255.69H103.23M100.83 253.29V258.09" stroke-width="1.30" fill="none"/>
<path d="M101.73 266.23H106.53M104.13 263.83V268.63" stroke-width="1.30" fill="none"/>
<path d="M105.04 250.42H109.84M107.44 248.02V252.82" stroke-width="1.30" fill="none"/>
<path d="M108.35 253.93H113.15M110.75 251.53V256.33" stroke-width="1.30" fill="none"/>
<path d="M111.65 246.03H116.45M114.05 243.63V248.43" stroke-width="1.30" fill="none"/>
<path d="M114.96 257.45H119.76M117.36 255.05V259.85" stroke-width="1.30" fill="none"/>
<path d="M118.27 266.23H123.07M120.67 263.83V268.63" stroke-width="1.30" fill="none"/>
<path d="M121.57 264.47H126.37M123.97 262.07V266.87" stroke-width="1.30" fill="none"/>
<path d="M124.88 239.88H129.68M127.28 237.48V242.28" stroke-width="1.30" fill="none"/>
<path d="M128.19 197.72H132.99M130.59 195.32V200.12" stroke-width="1.30" fill="none"/>
<path d="M131.49 213.53H136.29M133.89 211.13V215.93" stroke-width="1.30" fill="none"/>
<path d="M134.80 257.45H139.60M137.20 255.05V259.85" stroke-width="1.30" fill="none"/>
<path d="M138.11 264.47H142.91M140.51 262.07V266.87" stroke-width="1.30" fill="none"/>
<path d="M141.41 266.23H146.21M143.81 263.83V268.63" stroke-width="1.30" fill="none"/>
<path d="M144.72 262.72H149.52M147.12 260.32V265.12" stroke-width="1.30" fill="none"/>
<path d="M148.03 257.45H152.83M150.43 255.05V259.85" stroke-width="1.30" fill="none"/>
<path d="M151.33 255.69H156.13M153.73 253.29V258.09" stroke-width="1.30" fill="none"/>
<path d="M154.64 257.45H159.44M157.04 255.05V259.85" stroke-width="1.30" fill="none"/>
<path d="M157.95 260.96H162.75M160.35 258.56V263.36" stroke-width="1.30" fill="none"/>
<path d="M161.25 262.19H166.05M163.65 259.79V264.59" stroke-width="1.30" fill="none"/>
<path d="M164.56 260.96H169.36M166.96 258.56V263.36" stroke-width="1.30" fill="none"/>
<path d="M167.87 259.20H172.67M170.27 256.80V261.60" stroke-width="1.30" fill="none"/>
<path d="M171.17 264.47H175.97M173.57 262.07V266.87" stroke-width="1.30" fill="none"/>
<path d="M174.48 256.22H179.28M176.88 253.82V258.62" stroke-width="1.30" fill="none"/>
<path d="M177.79 255.69H182.59M180.19 253.29V258.09" stroke-width="1.30" fill="none"/>
<path d="M181.09 263.60H185.89M183.49 261.20V266.00" stroke-width="1.30" fill="none"/>
<path d="M184.40 246.91H189.20M186.80 244.51V249.31" stroke-width="1.30" fill="none"/>
<path d="M187.71 248.66H192.51M190.11 246.26V251.06" stroke-width="1.30" fill="none"/>
<path d="M191.01 246.91H195.81M193.41 244.51V249.31" stroke-width="1.30" fill="none"/>
<path d="M194.32 246.91H199.12M196.72 244.51V249.31" stroke-width="1.30" fill="none"/>
<path d="M197.63 259.20H202.43M200.03 256.80V261.60" stroke-width="1.30" fill="none"/>
<path d="M200.93 260.96H205.73M203.33 258.56V263.36" stroke-width="1.30" fill="none"/>
<path d="M204.24 260.96H209.04M206.64 258.56V263.36" stroke-width="1.30" fill="none"/>
<path d="M207.55 262.72H212.35M209.95 260.32V265.12" stroke-width="1.30" fill="none"/>
<path d="M210.85 267.46H215.65M213.25 265.06V269.86" stroke-width="1.30" fill="none"/>
<path d="M214.16 262.72H218.96M216.56 260.32V265.12" stroke-width="1.30" fill="none"/>
<path d="M217.47 264.82H222.27M219.87 262.42V267.22" stroke-width="1.30" fill="none"/>
<path d="M220.77 269.74H225.57M223.17 267.34V272.14" stroke-width="1.30" fill="none"/>
<path d="M224.08 262.72H228.88M226.48 260.32V265.12" stroke-width="1.30" fill="none"/>
<path d="M227.39 261.66H232.19M229.79 259.26V264.06" stroke-width="1.30" fill="none"/>
<path d="M230.69 264.47H235.49M233.09 262.07V266.87" stroke-width="1.30" fill="none"/>
<path d="M234.00 260.96H238.80M236.40 258.56V263.36" stroke-width="1.30" fill="none"/>
<path d="M237.31 266.76H242.11M239.71 264.36V269.16" stroke-width="1.30" fill="none"/>
<path d="M240.61 251.30H245.41M243.01 248.90V253.70" stroke-width="1.30" fill="none"/>
<path d="M243.92 262.89H248.72M246.32 260.49V265.29" stroke-width="1.30" fill="none"/>
<path d="M247.23 262.89H252.03M249.63 260.49V265.29" stroke-width="1.30" fill="none"/>
<path d="M250.53 265.35H255.33M252.93 262.95V267.75" stroke-width="1.30" fill="none"/>
<path d="M253.84 251.47H258.64M256.24 249.07V253.87" stroke-width="1.30" fill="none"/>
<path d="M257.15 260.96H261.95M259.55 258.56V263.36" stroke-width="1.30" fill="none"/>
<path d="M260.45 263.60H265.25M262.85 261.20V266.00" stroke-width="1.30" fill="none"/>
<path d="M263.76 263.95H268.56M266.16 261.55V266.35" stroke-width="1.30" fill="none"/>
<path d="M267.07 267.99H271.87M269.47 265.59V270.39" stroke-width="1.30" fill="none"/>
<path d="M270.37 257.45H275.17M272.77 255.05V259.85" stroke-width="1.30" fill="none"/>
<path d="M273.68 251.83H278.48M276.08 249.43V254.23" stroke-width="1.30" fill="none"/>
<path d="M276.99 259.20H281.79M279.39 256.80V261.60" stroke-width="1.30" fill="none"/>
<path d="M280.29 255.69H285.09M282.69 253.29V258.09" stroke-width="1.30" fill="none"/>
<path d="M283.60 266.23H288.40M286.00 263.83V268.63" stroke-width="1.30" fill="none"/>
<path d="M286.91 263.24H291.71M289.31 260.84V265.64" stroke-width="1.30" fill="none"/>
<path d="M290.21 262.72H295.01M292.61 260.32V265.12" stroke-width="1.30" fill="none"/>
<path d="M293.52 257.45H298.32M295.92 255.05V259.85" stroke-width="1.30" fill="none"/>
<path d="M296.83 265.70H301.63M299.23 263.30V268.10" stroke-width="1.30" fill="none"/>
<path d="M300.13 255.69H304.93M302.53 253.29V258.09" stroke-width="1.30" fill="none"/>
<path d="M303.44 264.47H308.24M305.84 262.07V266.87" stroke-width="1.30" fill="none"/>
<path d="M306.75 262.72H311.55M309.15 260.32V265.12" stroke-width="1.30" fill="none"/>
<path d="M310.05 248.66H314.85M312.45 246.26V251.06" stroke-width="1.30" fill="none"/>
<path d="M313.36 250.42H318.16M315.76 248.02V252.82" stroke-width="1.30" fill="none"/>
<path d="M316.67 248.66H321.47M319.07 246.26V251.06" stroke-width="1.30" fill="none"/>
<path d="M319.97 253.93H324.77M322.37 251.53V256.33" stroke-width="1.30" fill="none"/>
<path d="M323.28 259.20H328.08M325.68 256.80V261.60" stroke-width="1.30" fill="none"/>
<path d="M326.59 259.20H331.39M328.99 256.80V261.60" stroke-width="1.30" fill="none"/>
<path d="M329.89 255.69H334.69M332.29 253.29V258.09" stroke-width="1.30" fill="none"/>
<path d="M333.20 250.42H338.00M335.60 248.02V252.82" stroke-width="1.30" fill="none"/>
<path d="M336.51 266.23H341.31M338.91 263.83V268.63" stroke-width="1.30" fill="none"/>
<path d="M339.81 266.23H344.61M342.21 263.83V268.63" stroke-width="1.30" fill="none"/>
<path d="M343.12 269.74H347.92M345.52 267.34V272.14" stroke-width="1.30" fill="none"/>
<path d="M346.43 266.23H351.23M348.83 263.83V268.63" stroke-width="1.30" fill="none"/>
<path d="M349.73 262.72H354.53M352.13 260.32V265.12" stroke-width="1.30" fill="none"/>
<path d="M353.04 269.74H357.84M355.44 267.34V272.14" stroke-width="1.30" fill="none"/>
<path d="M356.35 262.72H361.15M358.75 260.32V265.12" stroke-width="1.30" fill="none"/>
<path d="M359.65 264.47H364.45M362.05 262.07V266.87" stroke-width="1.30" fill="none"/>
<path d="M362.96 267.99H367.76M365.36 265.59V270.39" stroke-width="1.30" fill="none"/>
<path d="M366.27 266.23H371.07M368.67 263.83V268.63" stroke-width="1.30" fill="none"/>
<path d="M369.57 267.99H374.37M371.97 265.59V270.39" stroke-width="1.30" fill="none"/>
<path d="M372.88 266.23H377.68M375.28 263.83V268.63" stroke-width="1.30" fill="none"/>
<path d="M376.19 264.47H380.99M378.59 262.07V266.87" stroke-width="1.30" fill="none"/>
<path d="M379.49 266.23H384.29M381.89 263.83V268.63" stroke-width="1.30" fill="none"/>
<path d="M382.80 267.99H387.60M385.20 265.59V270.39" stroke-width="1.30" fill="none"/>
<path d="M386.11 266.23H390.91M388.51 263.83V268.63" stroke-width="1.30" fill="none"/>
<path d="M389.41 266.23H394.21M391.81 263.83V268.63" stroke-width="1.30" fill="none"/>
<path d="M392.72 266.23H397.52M395.12 263.83V268.63" stroke-width="1.30" fill="none"/>
<path d="M396.03 267.99H400.83M398.43 265.59V270.39" stroke-width="1.30" fill="none"/>
<path d="M399.33 268.16H404.13M401.73 265.76V270.56" stroke-width="1.30" fill="none"/>
<path d="M402.64 265.35H407.44M405.04 262.95V267.75" stroke-width="1.30" fill="none"/>
<path d="M405.95 265.35H410.75M408.35 262.95V267.75" stroke-width="1.30" fill="none"/>
<path d="M409.25 269.22H414.05M411.65 266.82V271.62" stroke-width="1.30" fill="none"/>
<path d="M412.56 268.87H417.36M414.96 266.47V271.26" stroke-width="1.30" fill="none"/>
<path d="M415.87 266.58H420.67M418.27 264.18V268.98" stroke-width="1.30" fill="none"/>
<path d="M419.17 260.43H423.97M421.57 258.03V262.83" stroke-width="1.30" fill="none"/>
<path d="M422.48 263.16H427.28M424.88 260.76V265.56" stroke-width="1.30" fill="none"/>
<path d="M425.79 269.74H430.59M428.19 267.34V272.14" stroke-width="1.30" fill="none"/>
<path d="M429.09 270.97H433.89M431.49 268.57V273.37" stroke-width="1.30" fill="none"/>
<path d="M432.40 269.92H437.20M434.80 267.52V272.32" stroke-width="1.30" fill="none"/>
<path d="M435.71 266.23H440.51M438.11 263.83V268.63" stroke-width="1.30" fill="none"/>
<path d="M439.01 264.65H443.81M441.41 262.25V267.05" stroke-width="1.30" fill="none"/>
<path d="M442.32 270.80H447.12M444.72 268.40V273.20" stroke-width="1.30" fill="none"/>
<path d="M445.63 263.24H450.43M448.03 260.84V265.64" stroke-width="1.30" fill="none"/>
<path d="M448.93 271.32H453.73M451.33 268.92V273.72" stroke-width="1.30" fill="none"/>
<path d="M452.24 267.99H457.04M454.64 265.59V270.39" stroke-width="1.30" fill="none"/>
<path d="M455.55 269.22H460.35M457.95 266.82V271.62" stroke-width="1.30" fill="none"/>
<path d="M458.85 269.92H463.65M461.25 267.52V272.32" stroke-width="1.30" fill="none"/>
<path d="M462.16 269.66H466.96M464.56 267.26V272.06" stroke-width="1.30" fill="none"/>
<path d="M465.47 266.76H470.27M467.87 264.36V269.16" stroke-width="1.30" fill="none"/>
<path d="M468.77 260.70H473.57M471.17 258.30V263.10" stroke-width="1.30" fill="none"/>
<path d="M472.08 262.19H476.88M474.48 259.79V264.59" stroke-width="1.30" fill="none"/>
<path d="M475.39 263.07H480.19M477.79 260.67V265.47" stroke-width="1.30" fill="none"/>
<path d="M478.69 271.15H483.49M481.09 268.75V273.55" stroke-width="1.30" fill="none"/>
<path d="M482.00 269.04H486.80M484.40 266.64V271.44" stroke-width="1.30" fill="none"/>
<path d="M485.31 259.91H490.11M487.71 257.51V262.31" stroke-width="1.30" fill="none"/>
<path d="M488.61 267.99H493.41M491.01 265.59V270.39" stroke-width="1.30" fill="none"/>
<path d="M491.92 262.98H496.72M494.32 260.58V265.38" stroke-width="1.30" fill="none"/>
<path d="M495.23 267.99H500.03M497.63 265.59V270.39" stroke-width="1.30" fill="none"/>
<path d="M498.53 265.88H503.33M500.93 263.48V268.28" stroke-width="1.30" fill="none"/>
<path d="M501.84 262.54H506.64M504.24 260.14V264.94" stroke-width="1.30" fill="none"/>
<path d="M505.15 263.51H509.95M507.55 261.11V265.91" stroke-width="1.30" fill="none"/>
<path d="M508.45 265.88H513.25M510.85 263.48V268.28" stroke-width="1.30" fill="none"/>
<path d="M511.76 260.96H516.56M514.16 258.56V263.36" stroke-width="1.30" fill="none"/>
</g></g>
<g stroke="#1fe82a" fill="#1fe82a">
<polyline points="41.31,116.91 44.61,-123.75 47.92,195.96 51.23,245.15 54.53,241.64 57.84,241.64 61.15,253.93 64.45,236.37 67.76,242.69 71.07,210.02 74.37,227.58 77.68,253.93 80.99,264.47 84.29,268.34 87.60,253.93 90.91,255.69 94.21,256.22 97.52,260.96 100.83,270.80 104.13,262.72 107.44,253.93 110.75,257.45 114.05,255.69 117.36,249.54 120.67,253.93 123.97,265.00 127.28,210.02 130.59,159.07 133.89,183.67 137.20,250.42 140.51,253.93 143.81,257.45 147.12,260.96 150.43,255.69 153.73,252.18 157.04,250.42 160.35,246.03 163.65,253.93 166.96,251.47 170.27,249.54 173.57,260.96 176.88,270.27 180.19,239.88 183.49,255.69 186.80,252.18 190.11,257.45 193.41,260.96 196.72,257.45 200.03,255.69 203.33,253.93 206.64,255.69 209.95,257.45 213.25,262.72 216.56,252.18 219.87,260.96 223.17,266.23 226.48,262.72 229.79,264.47 233.09,260.96 236.40,263.60 239.71,253.93 243.01,231.97 246.32,246.91 249.63,255.69 252.93,259.20 256.24,263.60 259.55,255.69 262.85,253.93 266.16,249.54 269.47,269.74 272.77,266.23 276.08,264.47 279.39,266.23 282.69,267.99 286.00,269.74 289.31,264.47 292.61,263.95 295.92,259.20 299.23,262.72 302.53,259.20 305.84,265.70 309.15,263.60 312.45,252.18 315.76,252.18 319.07,253.93 322.37,256.22 325.68,260.08 328.99,260.08 332.29,257.45 335.60,253.93 338.91,262.72 342.21,264.47 345.52,266.23 348.83,266.23 352.13,262.72 355.44,267.99 358.75,262.72 362.05,264.47 365.36,267.99 368.67,267.99 371.97,267.11 375.28,266.23 378.59,266.23 381.89,264.47 385.20,266.23 388.51,262.72 391.81,260.96 395.12,258.50 398.43,259.73 401.73,258.15 405.04,253.93 408.35,253.93 411.65,262.54 414.96,258.50 418.27,267.11 421.57,267.11 424.88,269.74 428.19,270.53 431.49,267.64 434.80,266.58 438.11,271.50 441.41,270.53 444.72,268.87 448.03,268.69 451.33,267.81 454.64,269.22 457.95,266.76 461.25,266.41 464.56,265.70 467.87,258.85 471.17,259.91 474.48,260.17 477.79,257.27 481.09,265.53 484.40,263.07 487.71,258.59 491.01,261.14 494.32,263.07 497.63,266.76 500.93,262.54 504.24,261.66 507.55,261.84 510.85,265.35 514.16,259.38" fill="none" stroke-width="1.65" stroke-linejoin="round"/>
<g stroke-width="0.4">
<polygon points="41.31,114.11 43.83,119.01 38.79,119.01"/>
<polygon points="47.92,193.16 50.44,198.06 45.40,198.06"/>
<polygon points="51.23,242.35 53.75,247.25 48.71,247.25"/>
<polygon points="54.53,238.84 57.05,243.74 52.01,243.74"/>
<polygon points="57.84,238.84 60.36,243.74 55.32,243.74"/>
<polygon points="61.15,251.13 63.67,256.03 58.63,256.03"/>
<polygon points="64.45,233.57 66.97,238.47 61.93,238.47"/>
<polygon points="67.76,239.89 70.28,244.79 65.24,244.79"/>
<polygon points="71.07,207.22 73.59,212.12 68.55,212.12"/>
<polygon points="74.37,224.78 76.89,229.68 71.85,229.68"/>
<polygon points="77.68,251.13 80.20,256.03 75.16,256.03"/>
<polygon points="80.99,261.67 83.51,266.57 78.47,266.57"/>
<polygon points="84.29,265.54 86.81,270.44 81.77,270.44"/>
<polygon points="87.60,251.13 90.12,256.03 85.08,256.03"/>
<polygon points="90.91,252.89 93.43,257.79 88.39,257.79"/>
<polygon points="94.21,253.42 96.73,258.32 91.69,258.32"/>
<polygon points="97.52,258.16 100.04,263.06 95.00,263.06"/>
<polygon points="100.83,268.00 103.35,272.90 98.31,272.90"/>
<polygon points="104.13,259.92 106.65,264.82 101.61,264.82"/>
<polygon points="107.44,251.13 109.96,256.03 104.92,256.03"/>
<polygon points="110.75,254.65 113.27,259.55 108.23,259.55"/>
<polygon points="114.05,252.89 116.57,257.79 111.53,257.79"/>
<polygon points="117.36,246.74 119.88,251.64 114.84,251.64"/>
<polygon points="120.67,251.13 123.19,256.03 118.15,256.03"/>
<polygon points="123.97,262.20 126.49,267.10 121.45,267.10"/>
<polygon points="127.28,207.22 129.80,212.12 124.76,212.12"/>
<polygon points="130.59,156.27 133.11,161.17 128.07,161.17"/>
<polygon points="133.89,180.87 136.41,185.77 131.37,185.77"/>
<polygon points="137.20,247.62 139.72,252.52 134.68,252.52"/>
<polygon points="140.51,251.13 143.03,256.03 137.99,256.03"/>
<polygon points="143.81,254.65 146.33,259.55 141.29,259.55"/>
<polygon points="147.12,258.16 149.64,263.06 144.60,263.06"/>
<polygon points="150.43,252.89 152.95,257.79 147.91,257.79"/>
<polygon points="153.73,249.38 156.25,254.28 151.21,254.28"/>
<polygon points="157.04,247.62 159.56,252.52 154.52,252.52"/>
<polygon points="160.35,243.23 162.87,248.13 157.83,248.13"/>
<polygon points="163.65,251.13 166.17,256.03 161.13,256.03"/>
<polygon points="166.96,248.67 169.48,253.57 164.44,253.57"/>
<polygon points="170.27,246.74 172.79,251.64 167.75,251.64"/>
<polygon points="173.57,258.16 176.09,263.06 171.05,263.06"/>
<polygon points="176.88,267.47 179.40,272.37 174.36,272.37"/>
<polygon points="180.19,237.08 182.71,241.98 177.67,241.98"/>
<polygon points="183.49,252.89 186.01,257.79 180.97,257.79"/>
<polygon points="186.80,249.38 189.32,254.28 184.28,254.28"/>
<polygon points="190.11,254.65 192.63,259.55 187.59,259.55"/>
<polygon points="193.41,258.16 195.93,263.06 190.89,263.06"/>
<polygon points="196.72,254.65 199.24,259.55 194.20,259.55"/>
<polygon points="200.03,252.89 202.55,257.79 197.51,257.79"/>
<polygon points="203.33,251.13 205.85,256.03 200.81,256.03"/>
<polygon points="206.64,252.89 209.16,257.79 204.12,257.79"/>
<polygon points="209.95,254.65 212.47,259.55 207.43,259.55"/>
<polygon points="213.25,259.92 215.77,264.82 210.73,264.82"/>
<polygon points="216.56,249.38 219.08,254.28 214.04,254.28"/>
<polygon points="219.87,258.16 222.39,263.06 217.35,263.06"/>
<polygon points="223.17,263.43 225.69,268.33 220.65,268.33"/>
<polygon points="226.48,259.92 229.00,264.82 223.96,264.82"/>
<polygon points="229.79,261.67 232.31,266.57 227.27,266.57"/>
<polygon points="233.09,258.16 235.61,263.06 230.57,263.06"/>
<polygon points="236.40,260.80 238.92,265.70 233.88,265.70"/>
<polygon points="239.71,251.13 242.23,256.03 237.19,256.03"/>
<polygon points="243.01,229.17 245.53,234.07 240.49,234.07"/>
<polygon points="246.32,244.11 248.84,249.01 243.80,249.01"/>
<polygon points="249.63,252.89 252.15,257.79 247.11,257.79"/>
<polygon points="252.93,256.40 255.45,261.30 250.41,261.30"/>
<polygon points="256.24,260.80 258.76,265.70 253.72,265.70"/>
<polygon points="259.55,252.89 262.07,257.79 257.03,257.79"/>
<polygon points="262.85,251.13 265.37,256.03 260.33,256.03"/>
<polygon points="266.16,246.74 268.68,251.64 263.64,251.64"/>
<polygon points="269.47,266.94 271.99,271.84 266.95,271.84"/>
<polygon points="272.77,263.43 275.29,268.33 270.25,268.33"/>
<polygon points="276.08,261.67 278.60,266.57 273.56,266.57"/>
<polygon points="279.39,263.43 281.91,268.33 276.87,268.33"/>
<polygon points="282.69,265.19 285.21,270.09 280.17,270.09"/>
<polygon points="286.00,266.94 288.52,271.84 283.48,271.84"/>
<polygon points="289.31,261.67 291.83,266.57 286.79,266.57"/>
<polygon points="292.61,261.15 295.13,266.05 290.09,266.05"/>
<polygon points="295.92,256.40 298.44,261.30 293.40,261.30"/>
<polygon points="299.23,259.92 301.75,264.82 296.71,264.82"/>
<polygon points="302.53,256.40 305.05,261.30 300.01,261.30"/>
<polygon points="305.84,262.90 308.36,267.80 303.32,267.80"/>
<polygon points="309.15,260.80 311.67,265.70 306.63,265.70"/>
<polygon points="312.45,249.38 314.97,254.28 309.93,254.28"/>
<polygon points="315.76,249.38 318.28,254.28 313.24,254.28"/>
<polygon points="319.07,251.13 321.59,256.03 316.55,256.03"/>
<polygon points="322.37,253.42 324.89,258.32 319.85,258.32"/>
<polygon points="325.68,257.28 328.20,262.18 323.16,262.18"/>
<polygon points="328.99,257.28 331.51,262.18 326.47,262.18"/>
<polygon points="332.29,254.65 334.81,259.55 329.77,259.55"/>
<polygon points="335.60,251.13 338.12,256.03 333.08,256.03"/>
<polygon points="338.91,259.92 341.43,264.82 336.39,264.82"/>
<polygon points="342.21,261.67 344.73,266.57 339.69,266.57"/>
<polygon points="345.52,263.43 348.04,268.33 343.00,268.33"/>
<polygon points="348.83,263.43 351.35,268.33 346.31,268.33"/>
<polygon points="352.13,259.92 354.65,264.82 349.61,264.82"/>
<polygon points="355.44,265.19 357.96,270.09 352.92,270.09"/>
<polygon points="358.75,259.92 361.27,264.82 356.23,264.82"/>
<polygon points="362.05,261.67 364.57,266.57 359.53,266.57"/>
<polygon points="365.36,265.19 367.88,270.09 362.84,270.09"/>
<polygon points="368.67,265.19 371.19,270.09 366.15,270.09"/>
<polygon points="371.97,264.31 374.49,269.21 369.45,269.21"/>
<polygon points="375.28,263.43 377.80,268.33 372.76,268.33"/>
<polygon points="378.59,263.43 381.11,268.33 376.07,268.33"/>
<polygon points="381.89,261.67 384.41,266.57 379.37,266.57"/>
<polygon points="385.20,263.43 387.72,268.33 382.68,268.33"/>
<polygon points="388.51,259.92 391.03,264.82 385.99,264.82"/>
<polygon points="391.81,258.16 394.33,263.06 389.29,263.06"/>
<polygon points="395.12,255.70 397.64,260.60 392.60,260.60"/>
<polygon points="398.43,256.93 400.95,261.83 395.91,261.83"/>
<polygon points="401.73,255.35 404.25,260.25 399.21,260.25"/>
<polygon points="405.04,251.13 407.56,256.03 402.52,256.03"/>
<polygon points="408.35,251.13 410.87,256.03 405.83,256.03"/>
<polygon points="411.65,259.74 414.17,264.64 409.13,264.64"/>
<polygon points="414.96,255.70 417.48,260.60 412.44,260.60"/>
<polygon points="418.27,264.31 420.79,269.21 415.75,269.21"/>
<polygon points="421.57,264.31 424.09,269.21 419.05,269.21"/>
<polygon points="424.88,266.94 427.40,271.84 422.36,271.84"/>
<polygon points="428.19,267.73 430.71,272.63 425.67,272.63"/>
<polygon points="431.49,264.84 434.01,269.74 428.97,269.74"/>
<polygon points="434.80,263.78 437.32,268.68 432.28,268.68"/>
<polygon points="438.11,268.70 440.63,273.60 435.59,273.60"/>
<polygon points="441.41,267.73 443.93,272.63 438.89,272.63"/>
<polygon points="444.72,266.06 447.24,270.97 442.20,270.97"/>
<polygon points="448.03,265.89 450.55,270.79 445.51,270.79"/>
<polygon points="451.33,265.01 453.85,269.91 448.81,269.91"/>
<polygon points="454.64,266.42 457.16,271.32 452.12,271.32"/>
<polygon points="457.95,263.96 460.47,268.86 455.43,268.86"/>
<polygon points="461.25,263.61 463.77,268.51 458.73,268.51"/>
<polygon points="464.56,262.90 467.08,267.80 462.04,267.80"/>
<polygon points="467.87,256.05 470.39,260.95 465.35,260.95"/>
<polygon points="471.17,257.11 473.69,262.01 468.65,262.01"/>
<polygon points="474.48,257.37 477.00,262.27 471.96,262.27"/>
<polygon points="477.79,254.47 480.31,259.37 475.27,259.37"/>
<polygon points="481.09,262.73 483.61,267.63 478.57,267.63"/>
<polygon points="484.40,260.27 486.92,265.17 481.88,265.17"/>
<polygon points="487.71,255.79 490.23,260.69 485.19,260.69"/>
<polygon points="491.01,258.34 493.53,263.24 488.49,263.24"/>
<polygon points="494.32,260.27 496.84,265.17 491.80,265.17"/>
<polygon points="497.63,263.96 500.15,268.86 495.11,268.86"/>
<polygon points="500.93,259.74 503.45,264.64 498.41,264.64"/>
<polygon points="504.24,258.86 506.76,263.76 501.72,263.76"/>
<polygon points="507.55,259.04 510.07,263.94 505.03,263.94"/>
<polygon points="510.85,262.55 513.37,267.45 508.33,267.45"/>
<polygon points="514.16,256.58 516.68,261.48 511.64,261.48"/>
</g></g>
<g stroke="#1414d8" fill="#1414d8">
<polyline points="41.31,219.85 44.61,-39.43 47.92,166.45 51.23,252.88 54.53,256.22 57.84,265.70 61.15,241.46 64.45,213.88 67.76,223.19 71.07,184.02 74.37,204.22 77.68,237.25 80.99,270.62 84.29,264.82 87.60,249.89 90.91,251.12 94.21,245.85 97.52,251.47 100.83,252.88 104.13,267.11 107.44,244.97 110.75,253.93 114.05,269.74 117.36,267.28 120.67,266.23 123.97,266.76 127.28,234.61 130.59,175.59 133.89,192.98 137.20,241.11 140.51,242.34 143.81,240.58 147.12,258.50 150.43,253.58 153.73,253.58 157.04,256.04 160.35,258.50 163.65,267.28 166.96,258.50 170.27,257.80 173.57,264.82 176.88,259.73 180.19,253.06 183.49,249.89 186.80,258.50 190.11,265.35 193.41,264.30 196.72,257.80 200.03,262.37 203.33,259.20 206.64,259.20 209.95,259.73 213.25,268.51 216.56,259.20 219.87,267.99 223.17,269.22 226.48,259.73 229.79,267.99 233.09,263.60 236.40,256.57 239.71,243.74 243.01,221.26 246.32,236.89 249.63,249.37 252.93,250.60 256.24,255.34 259.55,246.56 262.85,246.56 266.16,239.35 269.47,264.82 272.77,263.60 276.08,259.73 279.39,259.73 282.69,264.30 286.00,268.51 289.31,251.12 292.61,255.34 295.92,249.01 299.23,251.12 302.53,244.27 305.84,257.80 309.15,256.04 312.45,243.57 315.76,244.80 319.07,245.68 322.37,249.37 325.68,256.04 328.99,255.34 332.29,251.12 335.60,242.87 338.91,259.73 342.21,262.37 345.52,265.70 348.83,263.24 352.13,256.22 355.44,261.66 358.75,256.57 362.05,257.10 365.36,267.99 368.67,268.34 371.97,267.99 375.28,269.39 378.59,270.62 381.89,267.99 385.20,270.80 388.51,267.11 391.81,268.34 395.12,266.41 398.43,269.04 401.73,266.23 405.04,261.40 408.35,261.84 411.65,268.43 414.96,263.16 418.27,268.69 421.57,266.05 424.88,265.18 428.19,267.11 431.49,269.22 434.80,268.43 438.11,267.11 441.41,268.16 444.72,270.09 448.03,268.43 451.33,267.90 454.64,269.48 457.95,269.39 461.25,267.55 464.56,269.22 467.87,264.65 471.17,268.25 474.48,267.64 477.79,263.07 481.09,269.13 484.40,269.30 487.71,266.76 491.01,268.51 494.32,271.24 497.63,266.93 500.93,270.45 504.24,270.09 507.55,269.83 510.85,268.87 514.16,267.20" fill="none" stroke-width="1.65" stroke-linejoin="round"/>
<g stroke-width="0.4">
<circle cx="41.31" cy="219.85" r="2.30"/>
<circle cx="47.92" cy="166.45" r="2.30"/>
<circle cx="51.23" cy="252.88" r="2.30"/>
<circle cx="54.53" cy="256.22" r="2.30"/>
<circle cx="57.84" cy="265.70" r="2.30"/>
<circle cx="61.15" cy="241.46" r="2.30"/>
<circle cx="64.45" cy="213.88" r="2.30"/>
<circle cx="67.76" cy="223.19" r="2.30"/>
<circle cx="71.07" cy="184.02" r="2.30"/>
<circle cx="74.37" cy="204.22" r="2.30"/>
<circle cx="77.68" cy="237.25" r="2.30"/>
<circle cx="80.99" cy="270.62" r="2.30"/>
<circle cx="84.29" cy="264.82" r="2.30"/>
<circle cx="87.60" cy="249.89" r="2.30"/>
<circle cx="90.91" cy="251.12" r="2.30"/>
<circle cx="94.21" cy="245.85" r="2.30"/>
<circle cx="97.52" cy="251.47" r="2.30"/>
<circle cx="100.83" cy="252.88" r="2.30"/>
<circle cx="104.13" cy="267.11" r="2.30"/>
<circle cx="107.44" cy="244.97" r="2.30"/>
<circle cx="110.75" cy="253.93" r="2.30"/>
<circle cx="114.05" cy="269.74" r="2.30"/>
<circle cx="117.36" cy="267.28" r="2.30"/>
<circle cx="120.67" cy="266.23" r="2.30"/>
<circle cx="123.97" cy="266.76" r="2.30"/>
<circle cx="127.28" cy="234.61" r="2.30"/>
<circle cx="130.59" cy="175.59" r="2.30"/>
<circle cx="133.89" cy="192.98" r="2.30"/>
<circle cx="137.20" cy="241.11" r="2.30"/>
<circle cx="140.51" cy="242.34" r="2.30"/>
<circle cx="143.81" cy="240.58" r="2.30"/>
<circle cx="147.12" cy="258.50" r="2.30"/>
<circle cx="150.43" cy="253.58" r="2.30"/>
<circle cx="153.73" cy="253.58" r="2.30"/>
<circle cx="157.04" cy="256.04" r="2.30"/>
<circle cx="160.35" cy="258.50" r="2.30"/>
<circle cx="163.65" cy="267.28" r="2.30"/>
<circle cx="166.96" cy="258.50" r="2.30"/>
<circle cx="170.27" cy="257.80" r="2.30"/>
<circle cx="173.57" cy="264.82" r="2.30"/>
<circle cx="176.88" cy="259.73" r="2.30"/>
<circle cx="180.19" cy="253.06" r="2.30"/>
<circle cx="183.49" cy="249.89" r="2.30"/>
<circle cx="186.80" cy="258.50" r="2.30"/>
<circle cx="190.11" cy="265.35" r="2.30"/>
<circle cx="193.41" cy="264.30" r="2.30"/>
<circle cx="196.72" cy="257.80" r="2.30"/>
<circle cx="200.03" cy="262.37" r="2.30"/>
<circle cx="203.33" cy="259.20" r="2.30"/>
<circle cx="206.64" cy="259.20" r="2.30"/>
<circle cx="209.95" cy="259.73" r="2.30"/>
<circle cx="213.25" cy="268.51" r="2.30"/>
<circle cx="216.56" cy="259.20" r="2.30"/>
<circle cx="219.87" cy="267.99" r="2.30"/>
<circle cx="223.17" cy="269.22" r="2.30"/>
<circle cx="226.48" cy="259.73" r="2.30"/>
<circle cx="229.79" cy="267.99" r="2.30"/>
<circle cx="233.09" cy="263.60" r="2.30"/>
<circle cx="236.40" cy="256.57" r="2.30"/>
<circle cx="239.71" cy="243.74" r="2.30"/>
<circle cx="243.01" cy="221.26" r="2.30"/>
<circle cx="246.32" cy="236.89" r="2.30"/>
<circle cx="249.63" cy="249.37" r="2.30"/>
<circle cx="252.93" cy="250.60" r="2.30"/>
<circle cx="256.24" cy="255.34" r="2.30"/>
<circle cx="259.55" cy="246.56" r="2.30"/>
<circle cx="262.85" cy="246.56" r="2.30"/>
<circle cx="266.16" cy="239.35" r="2.30"/>
<circle cx="269.47" cy="264.82" r="2.30"/>
<circle cx="272.77" cy="263.60" r="2.30"/>
<circle cx="276.08" cy="259.73" r="2.30"/>
<circle cx="279.39" cy="259.73" r="2.30"/>
<circle cx="282.69" cy="264.30" r="2.30"/>
<circle cx="286.00" cy="268.51" r="2.30"/>
<circle cx="289.31" cy="251.12" r="2.30"/>
<circle cx="292.61" cy="255.34" r="2.30"/>
<circle cx="295.92" cy="249.01" r="2.30"/>
<circle cx="299.23" cy="251.12" r="2.30"/>
<circle cx="302.53" cy="244.27" r="2.30"/>
<circle cx="305.84" cy="257.80" r="2.30"/>
<circle cx="309.15" cy="256.04" r="2.30"/>
<circle cx="312.45" cy="243.57" r="2.30"/>
<circle cx="315.76" cy="244.80" r="2.30"/>
<circle cx="319.07" cy="245.68" r="2.30"/>
<circle cx="322.37" cy="249.37" r="2.30"/>
<circle cx="325.68" cy="256.04" r="2.30"/>
<circle cx="328.99" cy="255.34" r="2.30"/>
<circle cx="332.29" cy="251.12" r="2.30"/>
<circle cx="335.60" cy="242.87" r="2.30"/>
<circle cx="338.91" cy="259.73" r="2.30"/>
<circle cx="342.21" cy="262.37" r="2.30"/>
<circle cx="345.52" cy="265.70" r="2.30"/>
<circle cx="348.83" cy="263.24" r="2.30"/>
<circle cx="352.13" cy="256.22" r="2.30"/>
<circle cx="355.44" cy="261.66" r="2.30"/>
<circle cx="358.75" cy="256.57" r="2.30"/>
<circle cx="362.05" cy="257.10" r="2.30"/>
<circle cx="365.36" cy="267.99" r="2.30"/>
<circle cx="368.67" cy="268.34" r="2.30"/>
<circle cx="371.97" cy="267.99" r="2.30"/>
<circle cx="375.28" cy="269.39" r="2.30"/>
<circle cx="378.59" cy="270.62" r="2.30"/>
<circle cx="381.89" cy="267.99" r="2.30"/>
<circle cx="385.20" cy="270.80" r="2.30"/>
<circle cx="388.51" cy="267.11" r="2.30"/>
<circle cx="391.81" cy="268.34" r="2.30"/>
<circle cx="395.12" cy="266.41" r="2.30"/>
<circle cx="398.43" cy="269.04" r="2.30"/>
<circle cx="401.73" cy="266.23" r="2.30"/>
<circle cx="405.04" cy="261.40" r="2.30"/>
<circle cx="408.35" cy="261.84" r="2.30"/>
<circle cx="411.65" cy="268.43" r="2.30"/>
<circle cx="414.96" cy="263.16" r="2.30"/>
<circle cx="418.27" cy="268.69" r="2.30"/>
<circle cx="421.57" cy="266.05" r="2.30"/>
<circle cx="424.88" cy="265.18" r="2.30"/>
<circle cx="428.19" cy="267.11" r="2.30"/>
<circle cx="431.49" cy="269.22" r="2.30"/>
<circle cx="434.80" cy="268.43" r="2.30"/>
<circle cx="438.11" cy="267.11" r="2.30"/>
<circle cx="441.41" cy="268.16" r="2.30"/>
<circle cx="444.72" cy="270.09" r="2.30"/>
<circle cx="448.03" cy="268.43" r="2.30"/>
<circle cx="451.33" cy="267.90" r="2.30"/>
<circle cx="454.64" cy="269.48" r="2.30"/>
<circle cx="457.95" cy="269.39" r="2.30"/>
<circle cx="461.25" cy="267.55" r="2.30"/>
<circle cx="464.56" cy="269.22" r="2.30"/>
<circle cx="467.87" cy="264.65" r="2.30"/>
<circle cx="471.17" cy="268.25" r="2.30"/>
<circle cx="474.48" cy="267.64" r="2.30"/>
<circle cx="477.79" cy="263.07" r="2.30"/>
<circle cx="481.09" cy="269.13" r="2.30"/>
<circle cx="484.40" cy="269.30" r="2.30"/>
<circle cx="487.71" cy="266.76" r="2.30"/>
<circle cx="491.01" cy="268.51" r="2.30"/>
<circle cx="494.32" cy="271.24" r="2.30"/>
<circle cx="497.63" cy="266.93" r="2.30"/>
<circle cx="500.93" cy="270.45" r="2.30"/>
<circle cx="504.24" cy="270.09" r="2.30"/>
<circle cx="507.55" cy="269.83" r="2.30"/>
<circle cx="510.85" cy="268.87" r="2.30"/>
<circle cx="514.16" cy="267.20" r="2.30"/>
</g></g>
</g>
<g fill="none" stroke="#111" stroke-width="1.6"><path d="M427 249.5H518.4M427 273.1H518.4" stroke-dasharray="6.2 4.95"/><path d="M427.8 248.7V273.9" stroke-dasharray="4.8 5.5 6 4.5 4.4 9"/><path d="M517.6 248.7V273.9" stroke-dasharray="6.8 5 6 3.5 3.9 9"/></g>
<path d="M449.2 233.6L431 213.2" stroke="#111" stroke-width="1.7" fill="none"/><polygon points="427.8,209.6 434.8,212.4 430.3,216.4" fill="#111"/>
<path d="M280.3 95.9V187.7H452.5" stroke="#8a8a8a" stroke-width="0.8" fill="none"/>
<path d="M280.3 187.7v-1.6M305.6 187.7v-1.6M331.0 187.7v-1.6M356.3 187.7v-1.6M381.6 187.7v-1.6M406.9 187.7v-1.6M432.2 187.7v-1.6M280.3 187.7h1.6M280.3 172.4h1.6M280.3 157.1h1.6M280.3 141.8h1.6M280.3 126.5h1.6M280.3 111.2h1.6M280.3 95.9h1.6" stroke="#8a8a8a" stroke-width="0.7" fill="none"/>
<polyline points="280.30,187.70 285.37,166.28 290.43,169.34 295.50,180.81 300.56,170.10 305.62,187.70 310.69,152.89 315.75,146.77 320.82,162.45 325.88,177.75 330.95,174.69 336.01,169.34 341.08,172.40 346.14,180.05 351.21,173.16 356.28,172.40 361.34,179.28 366.41,181.58 371.47,173.55 376.54,180.81 381.60,157.86 386.67,157.10 391.73,161.69 396.80,151.74 401.86,187.70 406.93,176.22 411.99,154.42 417.06,170.87 422.12,165.51 427.19,185.02 432.25,174.69 437.32,167.04 442.38,168.57 447.45,178.14 452.51,157.10" fill="none" stroke="#f06a6a" stroke-width="0.7"/>
<g fill="#f06a6a">
<circle cx="280.30" cy="187.70" r="0.95"/>
<circle cx="285.37" cy="166.28" r="0.95"/>
<circle cx="290.43" cy="169.34" r="0.95"/>
<circle cx="295.50" cy="180.81" r="0.95"/>
<circle cx="300.56" cy="170.10" r="0.95"/>
<circle cx="305.62" cy="187.70" r="0.95"/>
<circle cx="310.69" cy="152.89" r="0.95"/>
<circle cx="315.75" cy="146.77" r="0.95"/>
<circle cx="320.82" cy="162.45" r="0.95"/>
<circle cx="325.88" cy="177.75" r="0.95"/>
<circle cx="330.95" cy="174.69" r="0.95"/>
<circle cx="336.01" cy="169.34" r="0.95"/>
<circle cx="341.08" cy="172.40" r="0.95"/>
<circle cx="346.14" cy="180.05" r="0.95"/>
<circle cx="351.21" cy="173.16" r="0.95"/>
<circle cx="356.28" cy="172.40" r="0.95"/>
<circle cx="361.34" cy="179.28" r="0.95"/>
<circle cx="366.41" cy="181.58" r="0.95"/>
<circle cx="371.47" cy="173.55" r="0.95"/>
<circle cx="376.54" cy="180.81" r="0.95"/>
<circle cx="381.60" cy="157.86" r="0.95"/>
<circle cx="386.67" cy="157.10" r="0.95"/>
<circle cx="391.73" cy="161.69" r="0.95"/>
<circle cx="396.80" cy="151.74" r="0.95"/>
<circle cx="401.86" cy="187.70" r="0.95"/>
<circle cx="406.93" cy="176.22" r="0.95"/>
<circle cx="411.99" cy="154.42" r="0.95"/>
<circle cx="417.06" cy="170.87" r="0.95"/>
<circle cx="422.12" cy="165.51" r="0.95"/>
<circle cx="427.19" cy="185.02" r="0.95"/>
<circle cx="432.25" cy="174.69" r="0.95"/>
<circle cx="437.32" cy="167.04" r="0.95"/>
<circle cx="442.38" cy="168.57" r="0.95"/>
<circle cx="447.45" cy="178.14" r="0.95"/>
<circle cx="452.51" cy="157.10" r="0.95"/>
</g>
<polyline points="280.30,170.87 285.37,149.45 290.43,152.51 295.50,176.99 300.56,154.04 305.62,180.05 310.69,160.54 315.75,154.80 320.82,163.22 325.88,174.31 330.95,173.16 336.01,169.72 341.08,177.75 346.14,176.99 351.21,176.22 356.28,167.81 361.34,176.22 366.41,178.52 371.47,166.28 376.54,175.46 381.60,154.42 386.67,160.92 391.73,161.69 396.80,147.15 401.86,183.88 406.93,174.69 411.99,157.86 417.06,172.40 422.12,173.16 427.19,175.46 432.25,172.40 437.32,170.87 442.38,170.10 447.45,184.64 452.51,157.86" fill="none" stroke="#6ff0f2" stroke-width="0.7"/>
<g fill="#6ff0f2">
<circle cx="280.30" cy="170.87" r="0.95"/>
<circle cx="285.37" cy="149.45" r="0.95"/>
<circle cx="290.43" cy="152.51" r="0.95"/>
<circle cx="295.50" cy="176.99" r="0.95"/>
<circle cx="300.56" cy="154.04" r="0.95"/>
<circle cx="305.62" cy="180.05" r="0.95"/>
<circle cx="310.69" cy="160.54" r="0.95"/>
<circle cx="315.75" cy="154.80" r="0.95"/>
<circle cx="320.82" cy="163.22" r="0.95"/>
<circle cx="325.88" cy="174.31" r="0.95"/>
<circle cx="330.95" cy="173.16" r="0.95"/>
<circle cx="336.01" cy="169.72" r="0.95"/>
<circle cx="341.08" cy="177.75" r="0.95"/>
<circle cx="346.14" cy="176.99" r="0.95"/>
<circle cx="351.21" cy="176.22" r="0.95"/>
<circle cx="356.28" cy="167.81" r="0.95"/>
<circle cx="361.34" cy="176.22" r="0.95"/>
<circle cx="366.41" cy="178.52" r="0.95"/>
<circle cx="371.47" cy="166.28" r="0.95"/>
<circle cx="376.54" cy="175.46" r="0.95"/>
<circle cx="381.60" cy="154.42" r="0.95"/>
<circle cx="386.67" cy="160.92" r="0.95"/>
<circle cx="391.73" cy="161.69" r="0.95"/>
<circle cx="396.80" cy="147.15" r="0.95"/>
<circle cx="401.86" cy="183.88" r="0.95"/>
<circle cx="406.93" cy="174.69" r="0.95"/>
<circle cx="411.99" cy="157.86" r="0.95"/>
<circle cx="417.06" cy="172.40" r="0.95"/>
<circle cx="422.12" cy="173.16" r="0.95"/>
<circle cx="427.19" cy="175.46" r="0.95"/>
<circle cx="432.25" cy="172.40" r="0.95"/>
<circle cx="437.32" cy="170.87" r="0.95"/>
<circle cx="442.38" cy="170.10" r="0.95"/>
<circle cx="447.45" cy="184.64" r="0.95"/>
<circle cx="452.51" cy="157.86" r="0.95"/>
</g>
<polyline points="280.30,173.16 285.37,160.92 290.43,160.92 295.50,177.75 300.56,176.22 305.62,166.28 310.69,139.50 315.75,151.36 320.82,180.05 325.88,185.41 330.95,180.81 336.01,164.75 341.08,157.86 346.14,184.64 351.21,151.74 356.28,186.94 361.34,172.40 366.41,177.75 371.47,180.81 376.54,179.67 381.60,167.04 386.67,140.65 391.73,147.15 396.80,150.98 401.86,186.17 406.93,176.99 411.99,137.21 417.06,172.40 422.12,150.60 427.19,172.40 432.25,163.22 437.32,148.69 442.38,152.89 447.45,163.22 452.51,141.80" fill="none" stroke="#f070ea" stroke-width="0.7"/>
<g fill="#f070ea">
<circle cx="280.30" cy="173.16" r="0.95"/>
<circle cx="285.37" cy="160.92" r="0.95"/>
<circle cx="290.43" cy="160.92" r="0.95"/>
<circle cx="295.50" cy="177.75" r="0.95"/>
<circle cx="300.56" cy="176.22" r="0.95"/>
<circle cx="305.62" cy="166.28" r="0.95"/>
<circle cx="310.69" cy="139.50" r="0.95"/>
<circle cx="315.75" cy="151.36" r="0.95"/>
<circle cx="320.82" cy="180.05" r="0.95"/>
<circle cx="325.88" cy="185.41" r="0.95"/>
<circle cx="330.95" cy="180.81" r="0.95"/>
<circle cx="336.01" cy="164.75" r="0.95"/>
<circle cx="341.08" cy="157.86" r="0.95"/>
<circle cx="346.14" cy="184.64" r="0.95"/>
<circle cx="351.21" cy="151.74" r="0.95"/>
<circle cx="356.28" cy="186.94" r="0.95"/>
<circle cx="361.34" cy="172.40" r="0.95"/>
<circle cx="366.41" cy="177.75" r="0.95"/>
<circle cx="371.47" cy="180.81" r="0.95"/>
<circle cx="376.54" cy="179.67" r="0.95"/>
<circle cx="381.60" cy="167.04" r="0.95"/>
<circle cx="386.67" cy="140.65" r="0.95"/>
<circle cx="391.73" cy="147.15" r="0.95"/>
<circle cx="396.80" cy="150.98" r="0.95"/>
<circle cx="401.86" cy="186.17" r="0.95"/>
<circle cx="406.93" cy="176.99" r="0.95"/>
<circle cx="411.99" cy="137.21" r="0.95"/>
<circle cx="417.06" cy="172.40" r="0.95"/>
<circle cx="422.12" cy="150.60" r="0.95"/>
<circle cx="427.19" cy="172.40" r="0.95"/>
<circle cx="432.25" cy="163.22" r="0.95"/>
<circle cx="437.32" cy="148.69" r="0.95"/>
<circle cx="442.38" cy="152.89" r="0.95"/>
<circle cx="447.45" cy="163.22" r="0.95"/>
<circle cx="452.51" cy="141.80" r="0.95"/>
</g>
<polyline points="280.30,129.56 285.37,111.20 290.43,111.20 295.50,148.69 300.56,131.09 305.62,168.57 310.69,168.57 315.75,180.05 320.82,183.49 325.88,170.87 330.95,166.28 336.01,187.70 341.08,183.49 346.14,176.22 351.21,175.46 356.28,171.63 361.34,177.75 366.41,167.04 371.47,165.51 376.54,162.45 381.60,132.62 386.67,137.21 391.73,138.36 396.80,125.73 401.86,161.69 406.93,150.98 411.99,131.47 417.06,142.56 422.12,150.98 427.19,167.04 432.25,148.69 437.32,144.86 442.38,145.62 447.45,160.92 452.51,134.91" fill="none" stroke="#74ee78" stroke-width="0.7"/>
<g fill="#74ee78">
<circle cx="280.30" cy="129.56" r="0.95"/>
<circle cx="285.37" cy="111.20" r="0.95"/>
<circle cx="290.43" cy="111.20" r="0.95"/>
<circle cx="295.50" cy="148.69" r="0.95"/>
<circle cx="300.56" cy="131.09" r="0.95"/>
<circle cx="305.62" cy="168.57" r="0.95"/>
<circle cx="310.69" cy="168.57" r="0.95"/>
<circle cx="315.75" cy="180.05" r="0.95"/>
<circle cx="320.82" cy="183.49" r="0.95"/>
<circle cx="325.88" cy="170.87" r="0.95"/>
<circle cx="330.95" cy="166.28" r="0.95"/>
<circle cx="336.01" cy="187.70" r="0.95"/>
<circle cx="341.08" cy="183.49" r="0.95"/>
<circle cx="346.14" cy="176.22" r="0.95"/>
<circle cx="351.21" cy="175.46" r="0.95"/>
<circle cx="356.28" cy="171.63" r="0.95"/>
<circle cx="361.34" cy="177.75" r="0.95"/>
<circle cx="366.41" cy="167.04" r="0.95"/>
<circle cx="371.47" cy="165.51" r="0.95"/>
<circle cx="376.54" cy="162.45" r="0.95"/>
<circle cx="381.60" cy="132.62" r="0.95"/>
<circle cx="386.67" cy="137.21" r="0.95"/>
<circle cx="391.73" cy="138.36" r="0.95"/>
<circle cx="396.80" cy="125.73" r="0.95"/>
<circle cx="401.86" cy="161.69" r="0.95"/>
<circle cx="406.93" cy="150.98" r="0.95"/>
<circle cx="411.99" cy="131.47" r="0.95"/>
<circle cx="417.06" cy="142.56" r="0.95"/>
<circle cx="422.12" cy="150.98" r="0.95"/>
<circle cx="427.19" cy="167.04" r="0.95"/>
<circle cx="432.25" cy="148.69" r="0.95"/>
<circle cx="437.32" cy="144.86" r="0.95"/>
<circle cx="442.38" cy="145.62" r="0.95"/>
<circle cx="447.45" cy="160.92" r="0.95"/>
<circle cx="452.51" cy="134.91" r="0.95"/>
</g>
<polyline points="280.30,164.75 285.37,143.71 290.43,145.62 295.50,174.31 300.56,151.36 305.62,175.46 310.69,163.98 315.75,160.16 320.82,168.57 325.88,177.75 330.95,174.31 336.01,168.57 341.08,173.16 346.14,181.58 351.21,174.31 356.28,172.02 361.34,178.90 366.41,178.52 371.47,170.49 376.54,177.75 381.60,157.86 386.67,173.55 391.73,170.87 396.80,150.98 401.86,177.37 406.93,178.14 411.99,167.04 417.06,174.69 422.12,186.55 427.19,167.81 432.25,183.11 437.32,181.58 442.38,180.43 447.45,176.22 452.51,168.96" fill="none" stroke="#5a5ae0" stroke-width="0.7"/>
<g fill="#5a5ae0">
<circle cx="280.30" cy="164.75" r="0.95"/>
<circle cx="285.37" cy="143.71" r="0.95"/>
<circle cx="290.43" cy="145.62" r="0.95"/>
<circle cx="295.50" cy="174.31" r="0.95"/>
<circle cx="300.56" cy="151.36" r="0.95"/>
<circle cx="305.62" cy="175.46" r="0.95"/>
<circle cx="310.69" cy="163.98" r="0.95"/>
<circle cx="315.75" cy="160.16" r="0.95"/>
<circle cx="320.82" cy="168.57" r="0.95"/>
<circle cx="325.88" cy="177.75" r="0.95"/>
<circle cx="330.95" cy="174.31" r="0.95"/>
<circle cx="336.01" cy="168.57" r="0.95"/>
<circle cx="341.08" cy="173.16" r="0.95"/>
<circle cx="346.14" cy="181.58" r="0.95"/>
<circle cx="351.21" cy="174.31" r="0.95"/>
<circle cx="356.28" cy="172.02" r="0.95"/>
<circle cx="361.34" cy="178.90" r="0.95"/>
<circle cx="366.41" cy="178.52" r="0.95"/>
<circle cx="371.47" cy="170.49" r="0.95"/>
<circle cx="376.54" cy="177.75" r="0.95"/>
<circle cx="381.60" cy="157.86" r="0.95"/>
<circle cx="386.67" cy="173.55" r="0.95"/>
<circle cx="391.73" cy="170.87" r="0.95"/>
<circle cx="396.80" cy="150.98" r="0.95"/>
<circle cx="401.86" cy="177.37" r="0.95"/>
<circle cx="406.93" cy="178.14" r="0.95"/>
<circle cx="411.99" cy="167.04" r="0.95"/>
<circle cx="417.06" cy="174.69" r="0.95"/>
<circle cx="422.12" cy="186.55" r="0.95"/>
<circle cx="427.19" cy="167.81" r="0.95"/>
<circle cx="432.25" cy="183.11" r="0.95"/>
<circle cx="437.32" cy="181.58" r="0.95"/>
<circle cx="442.38" cy="180.43" r="0.95"/>
<circle cx="447.45" cy="176.22" r="0.95"/>
<circle cx="452.51" cy="168.96" r="0.95"/>
</g>
<rect x="471.5" y="15.0" width="57.0" height="56.2" fill="#fff" stroke="#c6c6c6" stroke-width="1"/>
<g stroke="#ee1c24" fill="#ee1c24"><path d="M473.7 21.2H490.8" stroke-width="1.9"/><g stroke-width="0.3"><polygon points="482.20,17.42 483.13,19.92 485.79,20.03 483.71,21.69 484.42,24.26 482.20,22.79 479.98,24.26 480.69,21.69 478.61,20.03 481.27,19.92"/></g></g>
<g stroke="#1fe6f0" fill="#1fe6f0"><path d="M473.7 32.2H490.8" stroke-width="1.9"/><g stroke-width="0.3"><polygon points="482.20,28.83 484.90,32.20 482.20,35.58 479.50,32.20"/></g></g>
<g stroke="#f01ce0" fill="#f01ce0"><path d="M473.7 43.2H490.8" stroke-width="1.9"/><g stroke-width="0.3"><path d="M479.32 43.20H485.08M482.20 40.32V46.08" stroke-width="1.56" fill="none"/></g></g>
<g stroke="#1fe82a" fill="#1fe82a"><path d="M473.7 54.2H490.8" stroke-width="1.9"/><g stroke-width="0.3"><polygon points="482.20,50.84 485.22,56.72 479.18,56.72"/></g></g>
<g stroke="#1414d8" fill="#1414d8"><path d="M473.7 65.2H490.8" stroke-width="1.9"/><g stroke-width="0.3"><circle cx="482.20" cy="65.20" r="2.76"/></g></g>
</g>
<g font-family="'Liberation Sans', Arial, sans-serif" font-weight="bold" fill="#262626" stroke="#262626" stroke-width="0.25" text-rendering="geometricPrecision" filter="url(#bt)">
<text transform="translate(492.8,24.6) scale(0.92,1)" font-size="9.2">JS-SVR</text>
<text transform="translate(492.8,35.6) scale(0.92,1)" font-size="9.2">IJS-SVR</text>
<text transform="translate(492.8,46.6) scale(0.92,1)" font-size="9.2">SVR</text>
<text transform="translate(492.8,57.6) scale(0.92,1)" font-size="9.2">ELM</text>
<text transform="translate(492.8,68.6) scale(0.92,1)" font-size="9.2">GP</text>
<text x="38.3" y="284.8" font-size="10" text-anchor="middle">0</text>
<text x="203.6" y="284.8" font-size="10" text-anchor="middle">50</text>
<text x="369.0" y="284.8" font-size="10" text-anchor="middle">100</text>
<text x="534.3" y="284.8" font-size="10" text-anchor="middle">150</text>
<text transform="translate(34.5,275.2) scale(0.95,1)" font-size="10" text-anchor="end">0</text>
<text transform="translate(34.5,187.4) scale(0.95,1)" font-size="10" text-anchor="end">50</text>
<text transform="translate(34.5,99.5) scale(0.95,1)" font-size="10" text-anchor="end">100</text>
<text transform="translate(34.5,12.6) scale(0.95,1)" font-size="10" text-anchor="end">150</text>
<text x="286" y="296.6" font-size="10.75" text-anchor="middle">Sample number</text>
<text transform="translate(14.2,140.5) rotate(-90)" font-size="10.6" text-anchor="middle">Absolute error of wind power prediction value (%)</text>
</g>
<g font-family="'Liberation Sans', Arial, sans-serif" font-weight="bold" fill="#3a3a3a" font-size="5.1" text-rendering="geometricPrecision" filter="url(#bt)">
<text x="280.3" y="194.4" text-anchor="middle">110</text>
<text x="305.6" y="194.4" text-anchor="middle">115</text>
<text x="331.0" y="194.4" text-anchor="middle">120</text>
<text x="356.3" y="194.4" text-anchor="middle">125</text>
<text x="381.6" y="194.4" text-anchor="middle">130</text>
<text x="406.9" y="194.4" text-anchor="middle">135</text>
<text x="432.2" y="194.4" text-anchor="middle">140</text>
<text x="278.8" y="189.3" text-anchor="end">0</text>
<text x="278.8" y="174.0" text-anchor="end">2</text>
<text x="278.8" y="158.7" text-anchor="end">4</text>
<text x="278.8" y="143.4" text-anchor="end">6</text>
<text x="278.8" y="128.1" text-anchor="end">8</text>
<text x="278.8" y="112.8" text-anchor="end">10</text>
<text x="278.8" y="97.5" text-anchor="end">12</text>
</g>
</svg>
</body></html>
